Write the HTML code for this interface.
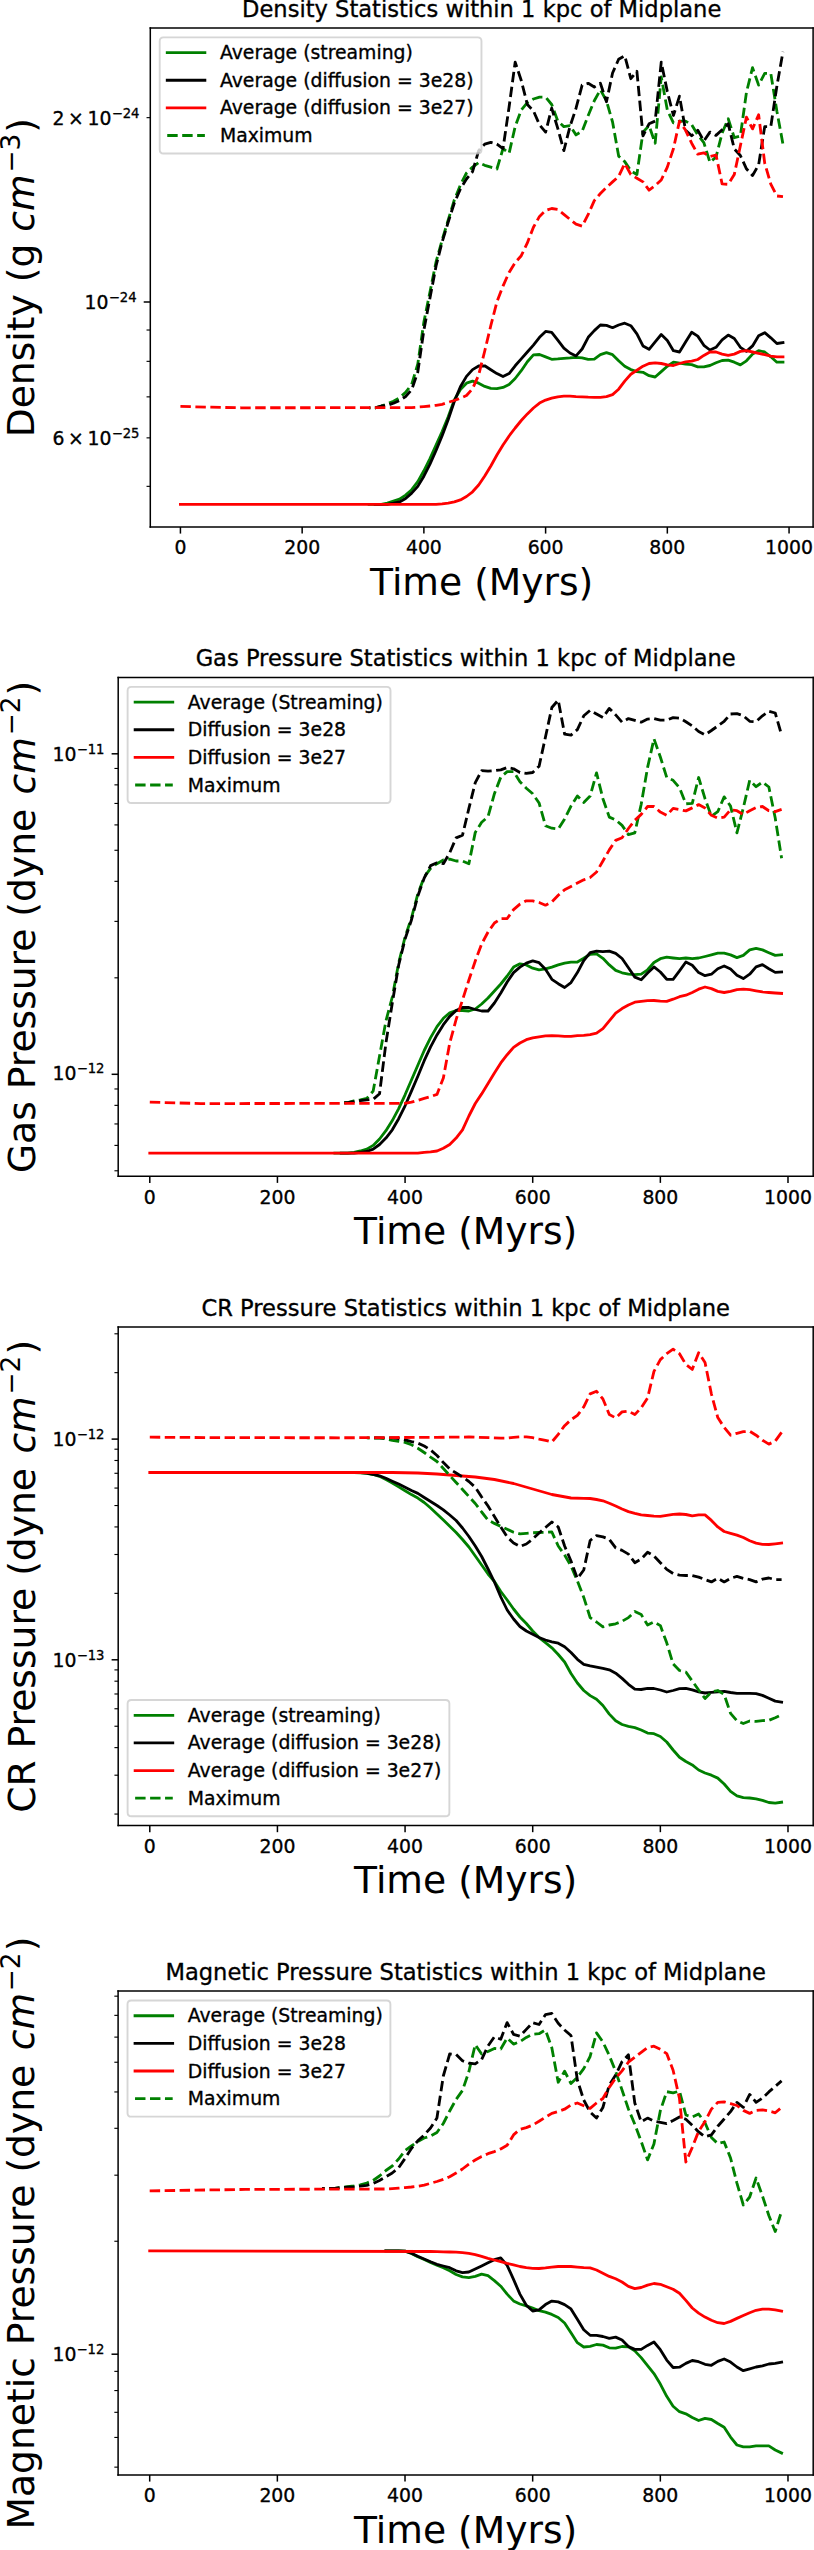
<!DOCTYPE html>
<html><head><meta charset="utf-8"><title>Statistics within 1 kpc of Midplane</title>
<style>html,body{margin:0;padding:0;background:#fff;}body{width:814px;height:2550px;overflow:hidden;}svg{display:block;}.ts{stroke:#000;stroke-width:0.18;}.tl{stroke:none;}</style>
</head><body>
<svg width="814" height="2550" viewBox="0 0 432.518597 1354.941552" version="1.1">
<defs>
<style type="text/css">*{stroke-linejoin: round; stroke-linecap: butt}</style>
</defs>
<g id="figure_1">
<g id="patch_1">
<path d="M 0 1354.941552 L 432.518597 1354.941552 L 432.518597 0 L 0 0 z" style="fill: #ffffff"/>
</g>
<g id="axes_1">
<g id="patch_2">
<path d="M 79.861849 280.021254 L 432.040383 280.021254 L 432.040383 14.87779 L 79.861849 14.87779 z" style="fill: #ffffff"/>
</g>
<g id="matplotlib.axis_1">
<g id="xtick_1">
<g id="line2d_1">
<g>
<path transform="translate(95.869964 280.021254)" d="M 0 0 L 0 3.5" style="stroke: #000000; stroke-width: 0.8"/>
</g>
</g>
<g id="text_1">
<text class="ts" style="font-size: 10px; font-family: 'DejaVu Sans', 'Liberation Sans', sans-serif; text-anchor: middle" x="95.869964" y="294.619691" transform="rotate(-0 95.869964 294.619691)">0</text>
</g>
</g>
<g id="xtick_2">
<g id="line2d_2">
<g>
<path transform="translate(160.549217 280.021254)" d="M 0 0 L 0 3.5" style="stroke: #000000; stroke-width: 0.8"/>
</g>
</g>
<g id="text_2">
<text class="ts" style="font-size: 10px; font-family: 'DejaVu Sans', 'Liberation Sans', sans-serif; text-anchor: middle" x="160.549217" y="294.619691" transform="rotate(-0 160.549217 294.619691)">200</text>
</g>
</g>
<g id="xtick_3">
<g id="line2d_3">
<g>
<path transform="translate(225.228471 280.021254)" d="M 0 0 L 0 3.5" style="stroke: #000000; stroke-width: 0.8"/>
</g>
</g>
<g id="text_3">
<text class="ts" style="font-size: 10px; font-family: 'DejaVu Sans', 'Liberation Sans', sans-serif; text-anchor: middle" x="225.228471" y="294.619691" transform="rotate(-0 225.228471 294.619691)">400</text>
</g>
</g>
<g id="xtick_4">
<g id="line2d_4">
<g>
<path transform="translate(289.907724 280.021254)" d="M 0 0 L 0 3.5" style="stroke: #000000; stroke-width: 0.8"/>
</g>
</g>
<g id="text_4">
<text class="ts" style="font-size: 10px; font-family: 'DejaVu Sans', 'Liberation Sans', sans-serif; text-anchor: middle" x="289.907724" y="294.619691" transform="rotate(-0 289.907724 294.619691)">600</text>
</g>
</g>
<g id="xtick_5">
<g id="line2d_5">
<g>
<path transform="translate(354.586977 280.021254)" d="M 0 0 L 0 3.5" style="stroke: #000000; stroke-width: 0.8"/>
</g>
</g>
<g id="text_5">
<text class="ts" style="font-size: 10px; font-family: 'DejaVu Sans', 'Liberation Sans', sans-serif; text-anchor: middle" x="354.586977" y="294.619691" transform="rotate(-0 354.586977 294.619691)">800</text>
</g>
</g>
<g id="xtick_6">
<g id="line2d_6">
<g>
<path transform="translate(419.26623 280.021254)" d="M 0 0 L 0 3.5" style="stroke: #000000; stroke-width: 0.8"/>
</g>
</g>
<g id="text_6">
<text class="ts" style="font-size: 10px; font-family: 'DejaVu Sans', 'Liberation Sans', sans-serif; text-anchor: middle" x="419.26623" y="294.619691" transform="rotate(-0 419.26623 294.619691)">1000</text>
</g>
</g>
<g id="text_7">
<text class="tl" style="font-size: 20px; font-family: 'DejaVu Sans', 'Liberation Sans', sans-serif; text-anchor: middle" x="255.951116" y="315.896254" transform="rotate(-0 255.951116 315.896254)">Time (Myrs)</text>
</g>
</g>
<g id="matplotlib.axis_2">
<g id="ytick_1">
<g id="line2d_7">
<g>
<path transform="translate(79.861849 160.467588)" d="M 0 0 L -3.5 0" style="stroke: #000000; stroke-width: 0.8"/>
</g>
</g>
<g id="text_8">
<g transform="translate(44.961849 165.276371)">
<text><tspan class="ts" x="0" y="-0.976562" style="font-size: 10px; font-family: 'DejaVu Sans', 'Liberation Sans', sans-serif">10</tspan><tspan class="ts" x="12.820312" y="-4.804688" style="font-size: 7px; font-family: 'DejaVu Sans', 'Liberation Sans', sans-serif">−24</tspan></text>
</g>
</g>
</g>
<g id="ytick_2">
<g id="line2d_8">
<g>
<path transform="translate(79.861849 258.4223)" d="M 0 0 L -2 0" style="stroke: #000000; stroke-width: 0.6"/>
</g>
</g>
</g>
<g id="ytick_3">
<g id="line2d_9">
<g>
<path transform="translate(79.861849 232.656841)" d="M 0 0 L -2 0" style="stroke: #000000; stroke-width: 0.6"/>
</g>
</g>
<g id="text_9">
<g transform="translate(27.861849 237.465624)">
<text><tspan class="ts" x="0" y="-0.976562" style="font-size: 10px; font-family: 'DejaVu Sans', 'Liberation Sans', sans-serif">6</tspan><tspan class="ts" x="8.310547" y="-0.976562" style="font-size: 10px; font-family: 'DejaVu Sans', 'Liberation Sans', sans-serif">×</tspan><tspan class="ts" x="18.637695" y="-0.976562" style="font-size: 10px; font-family: 'DejaVu Sans', 'Liberation Sans', sans-serif">10</tspan><tspan class="ts" x="31.458008" y="-4.804688" style="font-size: 7px; font-family: 'DejaVu Sans', 'Liberation Sans', sans-serif">−25</tspan></text>
</g>
</g>
</g>
<g id="ytick_4">
<g id="line2d_10">
<g>
<path transform="translate(79.861849 210.872455)" d="M 0 0 L -2 0" style="stroke: #000000; stroke-width: 0.6"/>
</g>
</g>
</g>
<g id="ytick_5">
<g id="line2d_11">
<g>
<path transform="translate(79.861849 192.001962)" d="M 0 0 L -2 0" style="stroke: #000000; stroke-width: 0.6"/>
</g>
</g>
</g>
<g id="ytick_6">
<g id="line2d_12">
<g>
<path transform="translate(79.861849 175.357007)" d="M 0 0 L -2 0" style="stroke: #000000; stroke-width: 0.6"/>
</g>
</g>
</g>
<g id="ytick_7">
<g id="line2d_13">
<g>
<path transform="translate(79.861849 62.512875)" d="M 0 0 L -2 0" style="stroke: #000000; stroke-width: 0.6"/>
</g>
</g>
<g id="text_10">
<g transform="translate(27.861849 67.321658)">
<text><tspan class="ts" x="0" y="-0.976562" style="font-size: 10px; font-family: 'DejaVu Sans', 'Liberation Sans', sans-serif">2</tspan><tspan class="ts" x="8.310547" y="-0.976562" style="font-size: 10px; font-family: 'DejaVu Sans', 'Liberation Sans', sans-serif">×</tspan><tspan class="ts" x="18.637695" y="-0.976562" style="font-size: 10px; font-family: 'DejaVu Sans', 'Liberation Sans', sans-serif">10</tspan><tspan class="ts" x="31.458008" y="-4.804688" style="font-size: 7px; font-family: 'DejaVu Sans', 'Liberation Sans', sans-serif">−24</tspan></text>
</g>
</g>
</g>
<g id="text_11">
<g transform="translate(19.236769 232.349522) rotate(-90)">
<text><tspan class="tl" x="0" y="-0.953125" style="font-size: 20px; font-family: 'DejaVu Sans', 'Liberation Sans', sans-serif">Density (g </tspan><tspan class="tl" x="109.248047" y="-0.953125" style="font-style: oblique; font-size: 20px; font-family: 'DejaVu Sans', 'Liberation Sans', sans-serif">cm</tspan><tspan class="tl" x="140.656979" y="-8.609375" style="font-size: 14px; font-family: 'DejaVu Sans', 'Liberation Sans', sans-serif">−3</tspan><tspan class="tl" x="161.841549" y="-0.953125" style="font-size: 20px; font-family: 'DejaVu Sans', 'Liberation Sans', sans-serif">)</tspan></text>
</g>
</g>
</g>
<g id="line2d_14">
<path d="M 196.122807 267.959617 L 202.590732 267.959617 L 205.824695 267.375133 L 209.058657 266.312434 L 212.29262 265.249734 L 215.526583 263.071201 L 218.760545 260.201913 L 221.994508 255.897981 L 225.228471 250.159405 L 228.462433 243.676939 L 231.696396 236.503719 L 234.930359 229.330499 L 238.164321 221.466525 L 241.398284 212.539851 L 244.632247 206.96068 L 247.866209 203.613177 L 251.100172 202.550478 L 254.334135 203.613177 L 257.568097 205.313496 L 260.80206 206.376196 L 264.036022 206.5356 L 267.269985 205.844846 L 270.503948 204.250797 L 273.73791 201.115834 L 276.971873 196.971307 L 280.205836 192.242295 L 283.439798 188.575983 L 286.673761 188.363443 L 289.907724 189.638682 L 293.141686 190.913921 L 296.375649 190.701382 L 299.609612 190.382572 L 302.843574 190.170032 L 306.077537 189.851222 L 309.3115 190.170032 L 312.545462 190.913921 L 315.779425 190.860786 L 319.013388 188.469713 L 322.24735 187.407014 L 325.481313 188.469713 L 328.715276 191.710946 L 331.949238 194.580234 L 335.183201 196.386823 L 338.417164 197.449522 L 341.651126 197.821467 L 344.885089 199.628055 L 348.119052 200.31881 L 351.353014 197.449522 L 354.586977 194.580234 L 357.82094 192.454835 L 361.054902 192.986185 L 364.288865 193.517535 L 367.522828 193.783209 L 370.75679 194.952179 L 373.990753 194.952179 L 377.224716 194.208289 L 380.458678 192.773645 L 383.692641 191.551541 L 386.926603 191.339001 L 390.160566 192.454835 L 393.394529 193.889479 L 396.628491 191.710946 L 399.862454 188.150903 L 403.096417 186.344315 L 406.330379 187.035069 L 409.564342 189.585547 L 412.798305 192.454835 L 416.032267 192.454835" clip-path="url(#p4381c79f08)" style="fill: none; stroke: #008000; stroke-width: 1.5; stroke-linecap: square"/>
</g>
<g id="line2d_15">
<path d="M 199.356769 267.959617 L 205.824695 267.959617 L 209.058657 267.375133 L 212.29262 266.684378 L 215.526583 264.87779 L 218.760545 262.008502 L 221.994508 258.448459 L 225.228471 253.028693 L 228.462433 246.599362 L 231.696396 239.373007 L 234.930359 231.509033 L 238.164321 222.901169 L 241.398284 213.336876 L 244.632247 205.472901 L 247.866209 200 L 251.100172 196.386823 L 254.334135 194.473964 L 257.568097 194.367694 L 260.80206 196.439957 L 264.036022 198.512221 L 267.269985 200.10627 L 270.503948 198.512221 L 273.73791 194.367694 L 276.971873 190.701382 L 280.205836 187.035069 L 283.439798 183.368757 L 286.673761 179.22423 L 289.907724 176.089267 L 293.141686 176.567481 L 296.375649 180.765143 L 299.609612 184.962806 L 302.843574 187.566419 L 306.077537 189.107333 L 309.3115 185.44102 L 312.545462 179.22423 L 315.779425 175.664187 L 319.013388 172.688629 L 322.24735 172.901169 L 325.481313 174.123273 L 328.715276 172.688629 L 331.949238 171.7322 L 335.183201 173.060574 L 338.417164 177.364506 L 341.651126 183.793836 L 344.885089 185.600425 L 348.119052 181.668438 L 351.353014 177.736451 L 354.586977 180.924548 L 357.82094 186.344315 L 361.054902 187.035069 L 364.288865 181.668438 L 367.522828 176.514346 L 370.75679 178.58661 L 373.990753 183.475027 L 377.224716 185.97237 L 380.458678 184.537726 L 383.692641 180.605739 L 386.926603 178.05526 L 390.160566 179.861849 L 393.394529 184.537726 L 396.628491 186.716259 L 399.862454 183.793836 L 403.096417 178.427205 L 406.330379 176.780021 L 409.564342 179.489904 L 412.798305 182.518597 L 416.032267 182.040383" clip-path="url(#p4381c79f08)" style="fill: none; stroke: #000000; stroke-width: 1.5; stroke-linecap: square"/>
</g>
<g id="line2d_16">
<path d="M 95.869964 267.959617 L 231.696396 267.959617 L 234.930359 267.747078 L 238.164321 267.375133 L 241.398284 266.684378 L 244.632247 265.621679 L 247.866209 263.81509 L 251.100172 261.317747 L 254.334135 257.70457 L 257.568097 252.922423 L 260.80206 247.608927 L 264.036022 241.764081 L 267.269985 236.450584 L 270.503948 231.668438 L 273.73791 227.417641 L 276.971873 223.432519 L 280.205836 219.925611 L 283.439798 216.790648 L 286.673761 214.187035 L 289.907724 212.592986 L 293.141686 211.583422 L 296.375649 210.839532 L 299.609612 210.520723 L 302.843574 210.520723 L 306.077537 210.733262 L 309.3115 210.839532 L 312.545462 211.052072 L 315.779425 211.105207 L 319.013388 211.105207 L 322.24735 210.733262 L 325.481313 209.670563 L 328.715276 206.801275 L 331.949238 202.497343 L 335.183201 198.884166 L 338.417164 196.758767 L 341.651126 194.580234 L 344.885089 193.14559 L 348.119052 192.773645 L 351.353014 193.14559 L 354.586977 193.889479 L 357.82094 194.208289 L 361.054902 193.14559 L 364.288865 192.29543 L 367.522828 191.923486 L 370.75679 191.020191 L 373.990753 188.841658 L 377.224716 187.035069 L 380.458678 187.035069 L 383.692641 188.150903 L 386.926603 188.841658 L 390.160566 188.150903 L 393.394529 186.716259 L 396.628491 186.344315 L 399.862454 187.035069 L 403.096417 187.778959 L 406.330379 188.469713 L 409.564342 189.213603 L 412.798305 189.585547 L 416.032267 189.585547" clip-path="url(#p4381c79f08)" style="fill: none; stroke: #ff0000; stroke-width: 1.5; stroke-linecap: square"/>
</g>
<g id="line2d_17">
<path d="M 196.122807 216.684378 L 199.356769 216.684378 L 202.590732 215.727949 L 205.824695 214.612115 L 209.058657 213.177471 L 212.29262 211.370882 L 215.526583 208.501594 L 218.760545 204.197662 L 221.994508 193.411265 L 225.228471 171.09458 L 228.462433 155.154091 L 231.696396 139.213603 L 234.930359 127.523911 L 238.164321 116.896918 L 241.398284 106.269926 L 244.632247 98.299681 L 247.866209 91.923486 L 251.100172 88.788523 L 254.334135 86.344315 L 257.568097 87.832094 L 260.80206 88.788523 L 264.036022 89.798087 L 267.269985 79.01169 L 270.503948 81.455898 L 273.73791 67.268863 L 276.971873 58.448459 L 280.205836 54.516472 L 283.439798 52.603613 L 286.673761 51.594049 L 289.907724 51.594049 L 293.141686 55.526036 L 296.375649 64.34644 L 299.609612 67.268863 L 302.843574 66.790648 L 306.077537 71.679065 L 309.3115 69.713071 L 312.545462 61.370882 L 315.779425 53.560043 L 319.013388 47.715197 L 322.24735 53.560043 L 325.481313 64.824655 L 328.715276 82.943677 L 331.949238 85.8661 L 335.183201 90.754516 L 338.417164 92.72051 L 341.651126 70.191286 L 344.885089 66.790648 L 348.119052 76.089267 L 351.353014 40.860786 L 354.586977 58.448459 L 357.82094 65.302869 L 361.054902 64.34644 L 364.288865 64.34644 L 367.522828 66.312434 L 370.75679 71.679065 L 373.990753 75.770457 L 377.224716 86.238045 L 380.458678 83.421892 L 383.692641 70.722635 L 386.926603 63.071201 L 390.160566 73.166844 L 393.394529 72.263549 L 396.628491 49.043571 L 399.862454 35.97237 L 403.096417 45.217853 L 406.330379 39.001063 L 409.564342 39.001063 L 412.798305 59.086079 L 416.032267 76.567481" clip-path="url(#p4381c79f08)" style="fill: none; stroke-dasharray: 5.55,2.4; stroke-dashoffset: 4.872809; stroke: #008000; stroke-width: 1.5"/>
</g>
<g id="line2d_18">
<path d="M 196.122807 216.684378 L 199.356769 216.684378 L 202.590732 215.727949 L 205.824695 215.356004 L 209.058657 214.24017 L 212.29262 212.805526 L 215.526583 210.680128 L 218.760545 207.06695 L 221.994508 197.662062 L 225.228471 175.345377 L 228.462433 158.342189 L 231.696396 141.339001 L 234.930359 128.58661 L 238.164321 117.959617 L 241.398284 107.863974 L 244.632247 100.42508 L 247.866209 95.111583 L 251.100172 91.232731 L 254.334135 80.021254 L 257.568097 76.567481 L 260.80206 75.611052 L 264.036022 76.567481 L 267.269985 79.01169 L 270.503948 56.85441 L 273.73791 32.996812 L 276.971873 42.773645 L 280.205836 55.526036 L 283.439798 58.926674 L 286.673761 66.312434 L 289.907724 70.191286 L 293.141686 57.49203 L 296.375649 68.225292 L 299.609612 80.021254 L 302.843574 67.268863 L 306.077537 57.49203 L 309.3115 45.217853 L 312.545462 44.261424 L 315.779425 46.227418 L 319.013388 44.261424 L 322.24735 54.038257 L 325.481313 38.788523 L 328.715276 31.509033 L 331.949238 29.596174 L 335.183201 41.817216 L 338.417164 37.885228 L 341.651126 72.157279 L 344.885089 65.781084 L 348.119052 64.34644 L 351.353014 32.996812 L 354.586977 48.671626 L 357.82094 61.370882 L 361.054902 51.115834 L 364.288865 69.234857 L 367.522828 72.157279 L 370.75679 69.234857 L 373.990753 74.920298 L 377.224716 70.191286 L 380.458678 71.94474 L 383.692641 68.969182 L 386.926603 65.781084 L 390.160566 79.064825 L 393.394529 82.624867 L 396.628491 89.691817 L 399.862454 93.25186 L 403.096417 87.619554 L 406.330379 67.268863 L 409.564342 67.268863 L 412.798305 45.696068 L 416.032267 27.470776" clip-path="url(#p4381c79f08)" style="fill: none; stroke-dasharray: 5.55,2.4; stroke-dashoffset: 4.872809; stroke: #000000; stroke-width: 1.5"/>
</g>
<g id="line2d_19">
<path d="M 95.869964 215.940489 L 112.039778 216.365569 L 128.209591 216.684378 L 218.760545 216.578108 L 225.228471 216.046759 L 228.462433 215.727949 L 231.696396 215.356004 L 234.930359 214.824655 L 238.164321 213.761955 L 241.398284 212.805526 L 244.632247 211.583422 L 247.866209 210.148778 L 251.100172 206.5356 L 254.334135 199.256111 L 257.568097 186.503719 L 260.80206 172.954304 L 264.036022 160.414453 L 267.269985 152.019129 L 270.503948 144.739639 L 273.73791 139.532412 L 276.971873 135.8661 L 280.205836 129.064825 L 283.439798 120.722635 L 286.673761 114.98406 L 289.907724 111.849097 L 293.141686 110.786397 L 296.375649 111.317747 L 299.609612 113.92136 L 302.843574 116.524973 L 306.077537 119.128587 L 309.3115 120.191286 L 312.545462 113.92136 L 315.779425 106.588735 L 319.013388 102.816153 L 322.24735 99.628055 L 325.481313 96.652497 L 328.715276 93.730074 L 331.949238 86.875664 L 335.183201 92.72051 L 338.417164 94.686504 L 341.651126 96.652497 L 344.885089 101.062699 L 348.119052 98.618491 L 351.353014 95.642933 L 354.586977 88.788523 L 357.82094 79.01169 L 361.054902 64.34644 L 364.288865 69.234857 L 367.522828 76.089267 L 370.75679 81.934113 L 373.990753 81.190223 L 377.224716 83.156217 L 380.458678 82.359192 L 383.692641 97.715197 L 386.926603 97.927736 L 390.160566 92.773645 L 393.394529 77.470776 L 396.628491 62.221041 L 399.862454 68.490967 L 403.096417 60.945802 L 406.330379 86.663124 L 409.564342 97.821467 L 412.798305 104.144527 L 416.032267 104.516472" clip-path="url(#p4381c79f08)" style="fill: none; stroke-dasharray: 5.55,2.4; stroke-dashoffset: 0; stroke: #ff0000; stroke-width: 1.5"/>
</g>
<g id="patch_3">
<path d="M 79.861849 280.021254 L 79.861849 14.87779" style="fill: none; stroke: #000000; stroke-width: 0.8; stroke-linejoin: miter; stroke-linecap: square"/>
</g>
<g id="patch_4">
<path d="M 432.040383 280.021254 L 432.040383 14.87779" style="fill: none; stroke: #000000; stroke-width: 0.8; stroke-linejoin: miter; stroke-linecap: square"/>
</g>
<g id="patch_5">
<path d="M 79.861849 280.021254 L 432.040383 280.021254" style="fill: none; stroke: #000000; stroke-width: 0.8; stroke-linejoin: miter; stroke-linecap: square"/>
</g>
<g id="patch_6">
<path d="M 79.861849 14.87779 L 432.040383 14.87779" style="fill: none; stroke: #000000; stroke-width: 0.8; stroke-linejoin: miter; stroke-linecap: square"/>
</g>
<g id="text_12">
<text class="ts" style="font-size: 12px; font-family: 'DejaVu Sans', 'Liberation Sans', sans-serif; text-anchor: middle" x="255.951116" y="8.87779" transform="rotate(-0 255.951116 8.87779)">Density Statistics within 1 kpc of Midplane</text>
</g>
<g id="legend_1">
<g id="patch_7">
<path d="M 86.861849 81.59029 L 253.833724 81.59029 Q 255.833724 81.59029 255.833724 79.59029 L 255.833724 21.87779 Q 255.833724 19.87779 253.833724 19.87779 L 86.861849 19.87779 Q 84.861849 19.87779 84.861849 21.87779 L 84.861849 79.59029 Q 84.861849 81.59029 86.861849 81.59029 z" style="fill: #ffffff; opacity: 0.8; stroke: #cccccc; stroke-linejoin: miter"/>
</g>
<g id="line2d_20">
<path d="M 88.861849 27.976227 L 98.861849 27.976227 L 108.861849 27.976227" style="fill: none; stroke: #008000; stroke-width: 1.5; stroke-linecap: square"/>
</g>
<g id="text_13">
<text class="ts" style="font-size: 10px; font-family: 'DejaVu Sans', 'Liberation Sans', sans-serif; text-anchor: start" x="116.861849" y="31.476227" transform="rotate(-0 116.861849 31.476227)">Average (streaming)</text>
</g>
<g id="line2d_21">
<path d="M 88.861849 42.654352 L 98.861849 42.654352 L 108.861849 42.654352" style="fill: none; stroke: #000000; stroke-width: 1.5; stroke-linecap: square"/>
</g>
<g id="text_14">
<text class="ts" style="font-size: 10px; font-family: 'DejaVu Sans', 'Liberation Sans', sans-serif; text-anchor: start" x="116.861849" y="46.154352" transform="rotate(-0 116.861849 46.154352)">Average (diffusion = 3e28)</text>
</g>
<g id="line2d_22">
<path d="M 88.861849 57.332477 L 98.861849 57.332477 L 108.861849 57.332477" style="fill: none; stroke: #ff0000; stroke-width: 1.5; stroke-linecap: square"/>
</g>
<g id="text_15">
<text class="ts" style="font-size: 10px; font-family: 'DejaVu Sans', 'Liberation Sans', sans-serif; text-anchor: start" x="116.861849" y="60.832477" transform="rotate(-0 116.861849 60.832477)">Average (diffusion = 3e27)</text>
</g>
<g id="line2d_23">
<path d="M 88.861849 72.010602 L 98.861849 72.010602 L 108.861849 72.010602" style="fill: none; stroke-dasharray: 5.55,2.4; stroke-dashoffset: 0; stroke: #008000; stroke-width: 1.5"/>
</g>
<g id="text_16">
<text class="ts" style="font-size: 10px; font-family: 'DejaVu Sans', 'Liberation Sans', sans-serif; text-anchor: start" x="116.861849" y="75.510602" transform="rotate(-0 116.861849 75.510602)">Maximum</text>
</g>
</g>
</g>
<g id="axes_2">
<g id="patch_8">
<path d="M 62.805526 625.026567 L 432.093518 625.026567 L 432.093518 359.989373 L 62.805526 359.989373 z" style="fill: #ffffff"/>
</g>
<g id="matplotlib.axis_3">
<g id="xtick_7">
<g id="line2d_24">
<g>
<path transform="translate(79.591344 625.026567)" d="M 0 0 L 0 3.5" style="stroke: #000000; stroke-width: 0.8"/>
</g>
</g>
<g id="text_17">
<text class="ts" style="font-size: 10px; font-family: 'DejaVu Sans', 'Liberation Sans', sans-serif; text-anchor: middle" x="79.591344" y="639.625005" transform="rotate(-0 79.591344 639.625005)">0</text>
</g>
</g>
<g id="xtick_8">
<g id="line2d_25">
<g>
<path transform="translate(147.41283 625.026567)" d="M 0 0 L 0 3.5" style="stroke: #000000; stroke-width: 0.8"/>
</g>
</g>
<g id="text_18">
<text class="ts" style="font-size: 10px; font-family: 'DejaVu Sans', 'Liberation Sans', sans-serif; text-anchor: middle" x="147.41283" y="639.625005" transform="rotate(-0 147.41283 639.625005)">200</text>
</g>
</g>
<g id="xtick_9">
<g id="line2d_26">
<g>
<path transform="translate(215.234316 625.026567)" d="M 0 0 L 0 3.5" style="stroke: #000000; stroke-width: 0.8"/>
</g>
</g>
<g id="text_19">
<text class="ts" style="font-size: 10px; font-family: 'DejaVu Sans', 'Liberation Sans', sans-serif; text-anchor: middle" x="215.234316" y="639.625005" transform="rotate(-0 215.234316 639.625005)">400</text>
</g>
</g>
<g id="xtick_10">
<g id="line2d_27">
<g>
<path transform="translate(283.055802 625.026567)" d="M 0 0 L 0 3.5" style="stroke: #000000; stroke-width: 0.8"/>
</g>
</g>
<g id="text_20">
<text class="ts" style="font-size: 10px; font-family: 'DejaVu Sans', 'Liberation Sans', sans-serif; text-anchor: middle" x="283.055802" y="639.625005" transform="rotate(-0 283.055802 639.625005)">600</text>
</g>
</g>
<g id="xtick_11">
<g id="line2d_28">
<g>
<path transform="translate(350.877288 625.026567)" d="M 0 0 L 0 3.5" style="stroke: #000000; stroke-width: 0.8"/>
</g>
</g>
<g id="text_21">
<text class="ts" style="font-size: 10px; font-family: 'DejaVu Sans', 'Liberation Sans', sans-serif; text-anchor: middle" x="350.877288" y="639.625005" transform="rotate(-0 350.877288 639.625005)">800</text>
</g>
</g>
<g id="xtick_12">
<g id="line2d_29">
<g>
<path transform="translate(418.698774 625.026567)" d="M 0 0 L 0 3.5" style="stroke: #000000; stroke-width: 0.8"/>
</g>
</g>
<g id="text_22">
<text class="ts" style="font-size: 10px; font-family: 'DejaVu Sans', 'Liberation Sans', sans-serif; text-anchor: middle" x="418.698774" y="639.625005" transform="rotate(-0 418.698774 639.625005)">1000</text>
</g>
</g>
<g id="text_23">
<text class="tl" style="font-size: 20px; font-family: 'DejaVu Sans', 'Liberation Sans', sans-serif; text-anchor: middle" x="247.449522" y="660.901567" transform="rotate(-0 247.449522 660.901567)">Time (Myrs)</text>
</g>
</g>
<g id="matplotlib.axis_4">
<g id="ytick_8">
<g id="line2d_30">
<g>
<path transform="translate(62.805526 570.828905)" d="M 0 0 L -3.5 0" style="stroke: #000000; stroke-width: 0.8"/>
</g>
</g>
<g id="text_24">
<g transform="translate(27.905526 574.893799)">
<text><tspan class="ts" x="0" y="-0.976562" style="font-size: 10px; font-family: 'DejaVu Sans', 'Liberation Sans', sans-serif">10</tspan><tspan class="ts" x="12.820312" y="-4.804688" style="font-size: 7px; font-family: 'DejaVu Sans', 'Liberation Sans', sans-serif">−12</tspan></text>
</g>
</g>
</g>
<g id="ytick_9">
<g id="line2d_31">
<g>
<path transform="translate(62.805526 400.53135)" d="M 0 0 L -3.5 0" style="stroke: #000000; stroke-width: 0.8"/>
</g>
</g>
<g id="text_25">
<g transform="translate(27.905526 404.596243)">
<text><tspan class="ts" x="0" y="-0.064063" style="font-size: 10px; font-family: 'DejaVu Sans', 'Liberation Sans', sans-serif">10</tspan><tspan class="ts" x="12.820312" y="-3.892188" style="font-size: 7px; font-family: 'DejaVu Sans', 'Liberation Sans', sans-serif">−11</tspan></text>
</g>
</g>
</g>
<g id="ytick_10">
<g id="line2d_32">
<g>
<path transform="translate(62.805526 622.093578)" d="M 0 0 L -2 0" style="stroke: #000000; stroke-width: 0.6"/>
</g>
</g>
</g>
<g id="ytick_11">
<g id="line2d_33">
<g>
<path transform="translate(62.805526 608.609205)" d="M 0 0 L -2 0" style="stroke: #000000; stroke-width: 0.6"/>
</g>
</g>
</g>
<g id="ytick_12">
<g id="line2d_34">
<g>
<path transform="translate(62.805526 597.208331)" d="M 0 0 L -2 0" style="stroke: #000000; stroke-width: 0.6"/>
</g>
</g>
</g>
<g id="ytick_13">
<g id="line2d_35">
<g>
<path transform="translate(62.805526 587.332444)" d="M 0 0 L -2 0" style="stroke: #000000; stroke-width: 0.6"/>
</g>
</g>
</g>
<g id="ytick_14">
<g id="line2d_36">
<g>
<path transform="translate(62.805526 578.621294)" d="M 0 0 L -2 0" style="stroke: #000000; stroke-width: 0.6"/>
</g>
</g>
</g>
<g id="ytick_15">
<g id="line2d_37">
<g>
<path transform="translate(62.805526 519.564233)" d="M 0 0 L -2 0" style="stroke: #000000; stroke-width: 0.6"/>
</g>
</g>
</g>
<g id="ytick_16">
<g id="line2d_38">
<g>
<path transform="translate(62.805526 489.576322)" d="M 0 0 L -2 0" style="stroke: #000000; stroke-width: 0.6"/>
</g>
</g>
</g>
<g id="ytick_17">
<g id="line2d_39">
<g>
<path transform="translate(62.805526 468.29956)" d="M 0 0 L -2 0" style="stroke: #000000; stroke-width: 0.6"/>
</g>
</g>
</g>
<g id="ytick_18">
<g id="line2d_40">
<g>
<path transform="translate(62.805526 451.796022)" d="M 0 0 L -2 0" style="stroke: #000000; stroke-width: 0.6"/>
</g>
</g>
</g>
<g id="ytick_19">
<g id="line2d_41">
<g>
<path transform="translate(62.805526 438.311649)" d="M 0 0 L -2 0" style="stroke: #000000; stroke-width: 0.6"/>
</g>
</g>
</g>
<g id="ytick_20">
<g id="line2d_42">
<g>
<path transform="translate(62.805526 426.910775)" d="M 0 0 L -2 0" style="stroke: #000000; stroke-width: 0.6"/>
</g>
</g>
</g>
<g id="ytick_21">
<g id="line2d_43">
<g>
<path transform="translate(62.805526 417.034888)" d="M 0 0 L -2 0" style="stroke: #000000; stroke-width: 0.6"/>
</g>
</g>
</g>
<g id="ytick_22">
<g id="line2d_44">
<g>
<path transform="translate(62.805526 408.323738)" d="M 0 0 L -2 0" style="stroke: #000000; stroke-width: 0.6"/>
</g>
</g>
</g>
<g id="text_26">
<g transform="translate(19.280446 623.30797) rotate(-90)">
<text><tspan class="tl" x="0" y="-0.953125" style="font-size: 20px; font-family: 'DejaVu Sans', 'Liberation Sans', sans-serif">Gas Pressure (dyne </tspan><tspan class="tl" x="201.191406" y="-0.953125" style="font-style: oblique; font-size: 20px; font-family: 'DejaVu Sans', 'Liberation Sans', sans-serif">cm</tspan><tspan class="tl" x="232.600339" y="-8.609375" style="font-size: 14px; font-family: 'DejaVu Sans', 'Liberation Sans', sans-serif">−2</tspan><tspan class="tl" x="253.784909" y="-0.953125" style="font-size: 20px; font-family: 'DejaVu Sans', 'Liberation Sans', sans-serif">)</tspan></text>
</g>
</g>
</g>
<g id="line2d_45">
<path d="M 177.932499 612.752391 L 184.714647 612.752391 L 188.105721 612.274176 L 191.496796 611.583422 L 194.88787 610.573858 L 198.278944 608.607864 L 201.670019 605.207226 L 205.061093 600.797024 L 208.452167 595.430393 L 211.843242 589.054198 L 215.234316 581.721573 L 218.62539 573.857598 L 222.016465 566.046759 L 225.407539 558.182784 L 228.798613 551.328374 L 232.189687 545.483528 L 235.580762 541.073326 L 238.971836 538.150903 L 242.36291 536.981934 L 245.753985 536.928799 L 249.145059 537.194474 L 252.536133 536.131775 L 255.927208 533.475027 L 259.318282 530.286929 L 262.709356 526.567481 L 266.10043 522.848034 L 269.491505 518.597237 L 272.882579 513.868225 L 276.273653 512.114772 L 279.664728 512.699256 L 283.055802 514.45271 L 286.446876 515.302869 L 289.837951 514.824655 L 293.229025 513.868225 L 296.620099 512.699256 L 300.011173 511.742827 L 303.402248 511.264612 L 306.793322 511.158342 L 310.184396 509.192349 L 313.575471 507.06695 L 316.966545 506.801275 L 320.357619 509.192349 L 323.748694 512.699256 L 327.139768 515.621679 L 330.530842 516.896918 L 333.921916 517.640808 L 337.312991 517.853348 L 340.704065 517.640808 L 344.095139 515.302869 L 347.486214 511.424017 L 350.877288 509.404888 L 354.268362 508.607864 L 357.659437 509.032944 L 361.050511 509.404888 L 364.441585 509.032944 L 367.83266 509.404888 L 371.223734 509.032944 L 374.614808 508.235919 L 378.005882 507.38576 L 381.396957 506.482465 L 384.788031 506.482465 L 388.179105 507.38576 L 391.57018 508.820404 L 394.961254 507.651435 L 398.352328 504.729012 L 401.743403 503.878852 L 405.134477 504.729012 L 408.525551 506.216791 L 411.916625 507.651435 L 415.3077 507.27949" clip-path="url(#pf662947c96)" style="fill: none; stroke: #008000; stroke-width: 1.5; stroke-linecap: square"/>
</g>
<g id="line2d_46">
<path d="M 181.323573 612.752391 L 188.105721 612.752391 L 191.496796 612.274176 L 194.88787 611.849097 L 198.278944 610.573858 L 201.670019 608.129649 L 205.061093 604.729012 L 208.452167 600.31881 L 211.843242 594.420829 L 215.234316 587.566419 L 218.62539 579.755579 L 222.016465 571.891605 L 225.407539 563.60255 L 228.798613 556.269926 L 232.189687 549.89373 L 235.580762 544.473964 L 238.971836 540.063762 L 242.36291 536.928799 L 245.753985 535.33475 L 249.145059 535.33475 L 252.536133 536.39745 L 255.927208 537.194474 L 259.318282 537.194474 L 262.709356 532.943677 L 266.10043 527.630181 L 269.491505 521.785335 L 272.882579 516.790648 L 276.273653 513.868225 L 279.664728 511.742827 L 283.055802 510.573858 L 286.446876 511.530287 L 289.837951 515.037194 L 293.229025 520.350691 L 296.620099 522.688629 L 300.011173 524.707758 L 303.402248 522.104145 L 306.793322 516.790648 L 310.184396 510.361318 L 313.575471 506.216791 L 316.966545 505.419766 L 320.357619 505.632306 L 323.748694 505.419766 L 327.139768 506.588735 L 330.530842 509.298618 L 333.921916 514.24017 L 337.312991 519.181722 L 340.704065 520.563231 L 344.095139 517.056323 L 347.486214 513.761955 L 350.877288 516.471838 L 354.268362 520.350691 L 357.659437 520.350691 L 361.050511 515.887354 L 364.441585 511.158342 L 367.83266 512.911796 L 371.223734 516.790648 L 374.614808 518.437832 L 378.005882 517.640808 L 381.396957 514.718385 L 384.788031 513.283741 L 388.179105 514.930925 L 391.57018 518.225292 L 394.961254 519.978746 L 398.352328 517.640808 L 401.743403 513.761955 L 405.134477 512.592986 L 408.525551 514.718385 L 411.916625 516.684378 L 415.3077 516.471838" clip-path="url(#pf662947c96)" style="fill: none; stroke: #000000; stroke-width: 1.5; stroke-linecap: square"/>
</g>
<g id="line2d_47">
<path d="M 79.591344 612.752391 L 222.016465 612.752391 L 225.407539 612.274176 L 228.798613 612.061637 L 232.189687 611.583422 L 235.580762 610.095643 L 238.971836 608.129649 L 242.36291 604.729012 L 245.753985 600.31881 L 249.145059 592.986185 L 252.536133 586.344315 L 255.927208 581.243358 L 259.318282 575.717322 L 262.709356 570.085016 L 266.10043 564.77152 L 269.491505 560.414453 L 272.882579 556.5356 L 276.273653 554.197662 L 279.664728 552.444208 L 283.055802 551.487779 L 286.446876 550.903294 L 289.837951 550.42508 L 293.229025 550.31881 L 296.620099 550.42508 L 300.011173 550.690755 L 303.402248 550.690755 L 306.793322 550.31881 L 310.184396 550.10627 L 313.575471 549.734325 L 316.966545 548.937301 L 320.357619 546.599362 L 323.748694 542.454835 L 327.139768 538.363443 L 330.530842 535.919235 L 333.921916 534.006376 L 337.312991 532.518597 L 340.704065 532.093518 L 344.095139 531.721573 L 347.486214 531.615303 L 350.877288 531.987248 L 354.268362 532.093518 L 357.659437 530.924548 L 361.050511 529.596174 L 364.441585 528.79915 L 367.83266 527.364506 L 371.223734 525.611052 L 374.614808 524.442083 L 378.005882 525.292242 L 381.396957 526.780021 L 384.788031 527.364506 L 388.179105 526.780021 L 391.57018 525.876727 L 394.961254 525.611052 L 398.352328 525.876727 L 401.743403 526.461211 L 405.134477 527.045696 L 408.525551 527.364506 L 411.916625 527.630181 L 415.3077 527.842721" clip-path="url(#pf662947c96)" style="fill: none; stroke: #ff0000; stroke-width: 1.5; stroke-linecap: square"/>
</g>
<g id="line2d_48">
<path d="M 181.323573 585.990081 L 184.714647 585.8661 L 188.105721 584.909671 L 191.496796 584.431456 L 194.88787 583.634431 L 198.278944 579.755579 L 201.670019 561.105207 L 205.061093 542.50797 L 208.452167 529.755579 L 211.843242 511.689692 L 215.234316 497.874601 L 218.62539 487.778959 L 222.016465 475.026567 L 225.407539 465.993624 L 228.798613 461.370882 L 232.189687 458.926674 L 235.580762 456.96068 L 238.971836 456.482465 L 242.36291 457.49203 L 245.753985 457.49203 L 249.145059 458.926674 L 252.536133 442.29543 L 255.927208 436.928799 L 259.318282 433.953241 L 262.709356 421.7322 L 266.10043 412.911796 L 269.491505 409.989373 L 272.882579 409.989373 L 276.273653 415.356004 L 279.664728 418.809777 L 283.055802 421.7322 L 286.446876 426.673751 L 289.837951 438.735388 L 293.229025 440.063762 L 296.620099 440.541977 L 300.011173 435.175345 L 303.402248 428.320935 L 306.793322 422.954304 L 310.184396 426.354942 L 313.575471 422.954304 L 316.966545 410.680128 L 320.357619 424.388948 L 323.748694 434.165781 L 327.139768 435.65356 L 330.530842 438.575983 L 333.921916 443.4644 L 337.312991 442.50797 L 340.704065 427.311371 L 344.095139 407.757705 L 347.486214 392.561105 L 350.877288 402.231668 L 354.268362 413.124336 L 357.659437 414.612115 L 361.050511 418.544102 L 364.441585 427.098831 L 367.83266 426.833156 L 371.223734 413.124336 L 374.614808 424.388948 L 378.005882 433.687566 L 381.396957 431.243358 L 384.788031 423.432519 L 388.179105 428.320935 L 391.57018 442.50797 L 394.961254 429.277365 L 398.352328 414.612115 L 401.743403 418.012752 L 405.134477 415.568544 L 408.525551 418.172157 L 411.916625 434.643996 L 415.3077 456.057386" clip-path="url(#pf662947c96)" style="fill: none; stroke-dasharray: 5.55,2.4; stroke-dashoffset: 6.388469; stroke: #008000; stroke-width: 1.5"/>
</g>
<g id="line2d_49">
<path d="M 181.323573 585.990081 L 184.714647 585.8661 L 188.105721 585.33475 L 191.496796 584.856536 L 194.88787 584.431456 L 198.278944 584.165781 L 201.670019 581.190223 L 205.061093 554.197662 L 208.452167 532.943677 L 211.843242 512.752391 L 215.234316 498.937301 L 218.62539 488.841658 L 222.016465 476.089267 L 225.407539 466.524973 L 228.798613 459.936238 L 232.189687 458.448459 L 235.580762 458.926674 L 238.971836 453.081828 L 242.36291 445.217853 L 245.753985 443.783209 L 249.145059 429.543039 L 252.536133 415.834219 L 255.927208 409.511158 L 259.318282 409.776833 L 262.709356 409.511158 L 266.10043 409.032944 L 269.491505 407.81084 L 272.882579 408.501594 L 276.273653 410.467588 L 279.664728 410.945802 L 283.055802 410.467588 L 286.446876 407.120085 L 289.837951 391.604676 L 293.229025 375.929862 L 296.620099 371.997875 L 300.011173 390.116897 L 303.402248 390.595112 L 306.793322 387.672689 L 310.184396 380.340064 L 313.575471 377.417641 L 316.966545 379.383634 L 320.357619 381.296493 L 323.748694 376.408077 L 327.139768 379.861849 L 330.530842 383.740701 L 333.921916 381.827843 L 337.312991 382.784272 L 340.704065 383.740701 L 344.095139 382.093518 L 347.486214 381.827843 L 350.877288 382.678002 L 354.268362 382.624867 L 357.659437 381.296493 L 361.050511 381.562168 L 364.441585 383.475027 L 367.83266 385.706695 L 371.223734 388.682253 L 374.614808 390.435707 L 378.005882 388.150903 L 381.396957 385.706695 L 384.788031 383.262487 L 388.179105 379.383634 L 391.57018 379.171095 L 394.961254 380.340064 L 398.352328 383.262487 L 401.743403 383.475027 L 405.134477 380.340064 L 408.525551 377.895855 L 411.916625 378.852285 L 415.3077 390.595112" clip-path="url(#pf662947c96)" style="fill: none; stroke-dasharray: 5.55,2.4; stroke-dashoffset: 6.388469; stroke: #000000; stroke-width: 1.5"/>
</g>
<g id="line2d_50">
<path d="M 79.591344 585.600425 L 106.719938 586.39745 L 215.234316 586.238045 L 218.62539 585.600425 L 222.016465 584.643996 L 225.407539 583.634431 L 228.798613 582.678002 L 232.189687 581.509033 L 235.580762 572.794899 L 238.971836 554.197662 L 242.36291 541.710946 L 245.753985 531.349628 L 249.145059 520.722635 L 252.536133 510.626993 L 255.927208 501.594049 L 259.318282 495.217853 L 262.709356 490.435707 L 266.10043 488.150903 L 269.491505 488.044633 L 272.882579 483.315622 L 276.273653 480.393199 L 279.664728 478.639745 L 283.055802 478.639745 L 286.446876 479.543039 L 289.837951 480.977683 L 293.229025 479.22423 L 296.620099 475.664187 L 300.011173 472.741764 L 303.402248 470.98831 L 306.793322 469.234857 L 310.184396 467.481403 L 313.575471 466.259299 L 316.966545 463.336876 L 320.357619 457.49203 L 323.748694 451.594049 L 327.139768 446.546227 L 330.530842 445.164718 L 333.921916 440.223167 L 337.312991 435.8661 L 340.704065 432.731137 L 344.095139 428.533475 L 347.486214 428.533475 L 350.877288 431.509033 L 354.268362 433.209352 L 357.659437 429.543039 L 361.050511 430.180659 L 364.441585 430.871413 L 367.83266 429.277365 L 371.223734 427.523911 L 374.614808 429.277365 L 378.005882 433.209352 L 381.396957 434.697131 L 384.788031 434.165781 L 388.179105 430.286929 L 391.57018 430.765143 L 394.961254 432.731137 L 398.352328 430.765143 L 401.743403 429.11796 L 405.134477 428.533475 L 408.525551 430.765143 L 411.916625 431.243358 L 415.3077 430.074389" clip-path="url(#pf662947c96)" style="fill: none; stroke-dasharray: 5.55,2.4; stroke-dashoffset: 0; stroke: #ff0000; stroke-width: 1.5"/>
</g>
<g id="patch_9">
<path d="M 62.805526 625.026567 L 62.805526 359.989373" style="fill: none; stroke: #000000; stroke-width: 0.8; stroke-linejoin: miter; stroke-linecap: square"/>
</g>
<g id="patch_10">
<path d="M 432.093518 625.026567 L 432.093518 359.989373" style="fill: none; stroke: #000000; stroke-width: 0.8; stroke-linejoin: miter; stroke-linecap: square"/>
</g>
<g id="patch_11">
<path d="M 62.805526 625.026567 L 432.093518 625.026567" style="fill: none; stroke: #000000; stroke-width: 0.8; stroke-linejoin: miter; stroke-linecap: square"/>
</g>
<g id="patch_12">
<path d="M 62.805526 359.989373 L 432.093518 359.989373" style="fill: none; stroke: #000000; stroke-width: 0.8; stroke-linejoin: miter; stroke-linecap: square"/>
</g>
<g id="text_27">
<text class="ts" style="font-size: 12px; font-family: 'DejaVu Sans', 'Liberation Sans', sans-serif; text-anchor: middle" x="247.449522" y="353.989373" transform="rotate(-0 247.449522 353.989373)">Gas Pressure Statistics within 1 kpc of Midplane</text>
</g>
<g id="legend_2">
<g id="patch_13">
<path d="M 69.805526 426.701873 L 205.493026 426.701873 Q 207.493026 426.701873 207.493026 424.701873 L 207.493026 366.989373 Q 207.493026 364.989373 205.493026 364.989373 L 69.805526 364.989373 Q 67.805526 364.989373 67.805526 366.989373 L 67.805526 424.701873 Q 67.805526 426.701873 69.805526 426.701873 z" style="fill: #ffffff; opacity: 0.8; stroke: #cccccc; stroke-linejoin: miter"/>
</g>
<g id="line2d_51">
<path d="M 71.805526 373.087811 L 81.805526 373.087811 L 91.805526 373.087811" style="fill: none; stroke: #008000; stroke-width: 1.5; stroke-linecap: square"/>
</g>
<g id="text_28">
<text class="ts" style="font-size: 10px; font-family: 'DejaVu Sans', 'Liberation Sans', sans-serif; text-anchor: start" x="99.805526" y="376.587811" transform="rotate(-0 99.805526 376.587811)">Average (Streaming)</text>
</g>
<g id="line2d_52">
<path d="M 71.805526 387.765936 L 81.805526 387.765936 L 91.805526 387.765936" style="fill: none; stroke: #000000; stroke-width: 1.5; stroke-linecap: square"/>
</g>
<g id="text_29">
<text class="ts" style="font-size: 10px; font-family: 'DejaVu Sans', 'Liberation Sans', sans-serif; text-anchor: start" x="99.805526" y="391.265936" transform="rotate(-0 99.805526 391.265936)">Diffusion = 3e28</text>
</g>
<g id="line2d_53">
<path d="M 71.805526 402.444061 L 81.805526 402.444061 L 91.805526 402.444061" style="fill: none; stroke: #ff0000; stroke-width: 1.5; stroke-linecap: square"/>
</g>
<g id="text_30">
<text class="ts" style="font-size: 10px; font-family: 'DejaVu Sans', 'Liberation Sans', sans-serif; text-anchor: start" x="99.805526" y="405.944061" transform="rotate(-0 99.805526 405.944061)">Diffusion = 3e27</text>
</g>
<g id="line2d_54">
<path d="M 71.805526 417.122186 L 81.805526 417.122186 L 91.805526 417.122186" style="fill: none; stroke-dasharray: 5.55,2.4; stroke-dashoffset: 0; stroke: #008000; stroke-width: 1.5"/>
</g>
<g id="text_31">
<text class="ts" style="font-size: 10px; font-family: 'DejaVu Sans', 'Liberation Sans', sans-serif; text-anchor: start" x="99.805526" y="420.622186" transform="rotate(-0 99.805526 420.622186)">Maximum</text>
</g>
</g>
</g>
<g id="axes_3">
<g id="patch_14">
<path d="M 62.805526 970.031881 L 432.093518 970.031881 L 432.093518 705.047821 L 62.805526 705.047821 z" style="fill: #ffffff"/>
</g>
<g id="matplotlib.axis_5">
<g id="xtick_13">
<g id="line2d_55">
<g>
<path transform="translate(79.591344 970.031881)" d="M 0 0 L 0 3.5" style="stroke: #000000; stroke-width: 0.8"/>
</g>
</g>
<g id="text_32">
<text class="ts" style="font-size: 10px; font-family: 'DejaVu Sans', 'Liberation Sans', sans-serif; text-anchor: middle" x="79.591344" y="984.630318" transform="rotate(-0 79.591344 984.630318)">0</text>
</g>
</g>
<g id="xtick_14">
<g id="line2d_56">
<g>
<path transform="translate(147.41283 970.031881)" d="M 0 0 L 0 3.5" style="stroke: #000000; stroke-width: 0.8"/>
</g>
</g>
<g id="text_33">
<text class="ts" style="font-size: 10px; font-family: 'DejaVu Sans', 'Liberation Sans', sans-serif; text-anchor: middle" x="147.41283" y="984.630318" transform="rotate(-0 147.41283 984.630318)">200</text>
</g>
</g>
<g id="xtick_15">
<g id="line2d_57">
<g>
<path transform="translate(215.234316 970.031881)" d="M 0 0 L 0 3.5" style="stroke: #000000; stroke-width: 0.8"/>
</g>
</g>
<g id="text_34">
<text class="ts" style="font-size: 10px; font-family: 'DejaVu Sans', 'Liberation Sans', sans-serif; text-anchor: middle" x="215.234316" y="984.630318" transform="rotate(-0 215.234316 984.630318)">400</text>
</g>
</g>
<g id="xtick_16">
<g id="line2d_58">
<g>
<path transform="translate(283.055802 970.031881)" d="M 0 0 L 0 3.5" style="stroke: #000000; stroke-width: 0.8"/>
</g>
</g>
<g id="text_35">
<text class="ts" style="font-size: 10px; font-family: 'DejaVu Sans', 'Liberation Sans', sans-serif; text-anchor: middle" x="283.055802" y="984.630318" transform="rotate(-0 283.055802 984.630318)">600</text>
</g>
</g>
<g id="xtick_17">
<g id="line2d_59">
<g>
<path transform="translate(350.877288 970.031881)" d="M 0 0 L 0 3.5" style="stroke: #000000; stroke-width: 0.8"/>
</g>
</g>
<g id="text_36">
<text class="ts" style="font-size: 10px; font-family: 'DejaVu Sans', 'Liberation Sans', sans-serif; text-anchor: middle" x="350.877288" y="984.630318" transform="rotate(-0 350.877288 984.630318)">800</text>
</g>
</g>
<g id="xtick_18">
<g id="line2d_60">
<g>
<path transform="translate(418.698774 970.031881)" d="M 0 0 L 0 3.5" style="stroke: #000000; stroke-width: 0.8"/>
</g>
</g>
<g id="text_37">
<text class="ts" style="font-size: 10px; font-family: 'DejaVu Sans', 'Liberation Sans', sans-serif; text-anchor: middle" x="418.698774" y="984.630318" transform="rotate(-0 418.698774 984.630318)">1000</text>
</g>
</g>
<g id="text_38">
<text class="tl" style="font-size: 20px; font-family: 'DejaVu Sans', 'Liberation Sans', sans-serif; text-anchor: middle" x="247.449522" y="1005.906881" transform="rotate(-0 247.449522 1005.906881)">Time (Myrs)</text>
</g>
</g>
<g id="matplotlib.axis_6">
<g id="ytick_23">
<g id="line2d_61">
<g>
<path transform="translate(62.805526 881.934113)" d="M 0 0 L -3.5 0" style="stroke: #000000; stroke-width: 0.8"/>
</g>
</g>
<g id="text_39">
<g transform="translate(27.905526 886.636626)">
<text><tspan class="ts" x="0" y="-0.976562" style="font-size: 10px; font-family: 'DejaVu Sans', 'Liberation Sans', sans-serif">10</tspan><tspan class="ts" x="12.820312" y="-4.804688" style="font-size: 7px; font-family: 'DejaVu Sans', 'Liberation Sans', sans-serif">−13</tspan></text>
</g>
</g>
</g>
<g id="ytick_24">
<g id="line2d_62">
<g>
<path transform="translate(62.805526 764.66525)" d="M 0 0 L -3.5 0" style="stroke: #000000; stroke-width: 0.8"/>
</g>
</g>
<g id="text_40">
<g transform="translate(27.905526 769.367763)">
<text><tspan class="ts" x="0" y="-0.976562" style="font-size: 10px; font-family: 'DejaVu Sans', 'Liberation Sans', sans-serif">10</tspan><tspan class="ts" x="12.820312" y="-4.804688" style="font-size: 7px; font-family: 'DejaVu Sans', 'Liberation Sans', sans-serif">−12</tspan></text>
</g>
</g>
</g>
<g id="ytick_25">
<g id="line2d_63">
<g>
<path transform="translate(62.805526 963.90153)" d="M 0 0 L -2 0" style="stroke: #000000; stroke-width: 0.6"/>
</g>
</g>
</g>
<g id="ytick_26">
<g id="line2d_64">
<g>
<path transform="translate(62.805526 943.251509)" d="M 0 0 L -2 0" style="stroke: #000000; stroke-width: 0.6"/>
</g>
</g>
</g>
<g id="ytick_27">
<g id="line2d_65">
<g>
<path transform="translate(62.805526 928.600085)" d="M 0 0 L -2 0" style="stroke: #000000; stroke-width: 0.6"/>
</g>
</g>
</g>
<g id="ytick_28">
<g id="line2d_66">
<g>
<path transform="translate(62.805526 917.235558)" d="M 0 0 L -2 0" style="stroke: #000000; stroke-width: 0.6"/>
</g>
</g>
</g>
<g id="ytick_29">
<g id="line2d_67">
<g>
<path transform="translate(62.805526 907.950063)" d="M 0 0 L -2 0" style="stroke: #000000; stroke-width: 0.6"/>
</g>
</g>
</g>
<g id="ytick_30">
<g id="line2d_68">
<g>
<path transform="translate(62.805526 900.099289)" d="M 0 0 L -2 0" style="stroke: #000000; stroke-width: 0.6"/>
</g>
</g>
</g>
<g id="ytick_31">
<g id="line2d_69">
<g>
<path transform="translate(62.805526 893.29864)" d="M 0 0 L -2 0" style="stroke: #000000; stroke-width: 0.6"/>
</g>
</g>
</g>
<g id="ytick_32">
<g id="line2d_70">
<g>
<path transform="translate(62.805526 887.300042)" d="M 0 0 L -2 0" style="stroke: #000000; stroke-width: 0.6"/>
</g>
</g>
</g>
<g id="ytick_33">
<g id="line2d_71">
<g>
<path transform="translate(62.805526 846.632667)" d="M 0 0 L -2 0" style="stroke: #000000; stroke-width: 0.6"/>
</g>
</g>
</g>
<g id="ytick_34">
<g id="line2d_72">
<g>
<path transform="translate(62.805526 825.982646)" d="M 0 0 L -2 0" style="stroke: #000000; stroke-width: 0.6"/>
</g>
</g>
</g>
<g id="ytick_35">
<g id="line2d_73">
<g>
<path transform="translate(62.805526 811.331222)" d="M 0 0 L -2 0" style="stroke: #000000; stroke-width: 0.6"/>
</g>
</g>
</g>
<g id="ytick_36">
<g id="line2d_74">
<g>
<path transform="translate(62.805526 799.966695)" d="M 0 0 L -2 0" style="stroke: #000000; stroke-width: 0.6"/>
</g>
</g>
</g>
<g id="ytick_37">
<g id="line2d_75">
<g>
<path transform="translate(62.805526 790.6812)" d="M 0 0 L -2 0" style="stroke: #000000; stroke-width: 0.6"/>
</g>
</g>
</g>
<g id="ytick_38">
<g id="line2d_76">
<g>
<path transform="translate(62.805526 782.830426)" d="M 0 0 L -2 0" style="stroke: #000000; stroke-width: 0.6"/>
</g>
</g>
</g>
<g id="ytick_39">
<g id="line2d_77">
<g>
<path transform="translate(62.805526 776.029777)" d="M 0 0 L -2 0" style="stroke: #000000; stroke-width: 0.6"/>
</g>
</g>
</g>
<g id="ytick_40">
<g id="line2d_78">
<g>
<path transform="translate(62.805526 770.031179)" d="M 0 0 L -2 0" style="stroke: #000000; stroke-width: 0.6"/>
</g>
</g>
</g>
<g id="ytick_41">
<g id="line2d_79">
<g>
<path transform="translate(62.805526 729.363804)" d="M 0 0 L -2 0" style="stroke: #000000; stroke-width: 0.6"/>
</g>
</g>
</g>
<g id="ytick_42">
<g id="line2d_80">
<g>
<path transform="translate(62.805526 708.713783)" d="M 0 0 L -2 0" style="stroke: #000000; stroke-width: 0.6"/>
</g>
</g>
</g>
<g id="text_41">
<g transform="translate(19.280446 963.239851) rotate(-90)">
<text><tspan class="tl" x="0" y="-0.953125" style="font-size: 20px; font-family: 'DejaVu Sans', 'Liberation Sans', sans-serif">CR Pressure (dyne </tspan><tspan class="tl" x="190.878906" y="-0.953125" style="font-style: oblique; font-size: 20px; font-family: 'DejaVu Sans', 'Liberation Sans', sans-serif">cm</tspan><tspan class="tl" x="222.287839" y="-8.609375" style="font-size: 14px; font-family: 'DejaVu Sans', 'Liberation Sans', sans-serif">−2</tspan><tspan class="tl" x="243.472409" y="-0.953125" style="font-size: 20px; font-family: 'DejaVu Sans', 'Liberation Sans', sans-serif">)</tspan></text>
</g>
</g>
</g>
<g id="line2d_81">
<path d="M 181.323573 782.462141 L 188.105721 782.465462 L 191.496796 782.571732 L 194.88787 782.837407 L 198.278944 783.475027 L 201.670019 784.431456 L 205.061093 786.18491 L 208.452167 787.991498 L 211.843242 790.063762 L 215.234316 792.082891 L 218.62539 794.155154 L 222.016465 796.014878 L 225.407539 798.352816 L 228.798613 801.275239 L 232.189687 804.463337 L 235.580762 807.651435 L 238.971836 810.945802 L 242.36291 814.293305 L 245.753985 818.012752 L 249.145059 821.997875 L 252.536133 826.780021 L 255.927208 831.562168 L 259.318282 836.344315 L 262.709356 840.329437 L 266.10043 845.642933 L 269.491505 850.159405 L 272.882579 854.941552 L 276.273653 859.192349 L 279.664728 862.646121 L 283.055802 866.631243 L 286.446876 870.138151 L 289.837951 872.794899 L 293.229025 875.557917 L 296.620099 879.11796 L 300.011173 883.103082 L 303.402248 889.213603 L 306.793322 894.261424 L 310.184396 898.246546 L 313.575471 900.956429 L 316.966545 902.922423 L 320.357619 906.216791 L 323.748694 910.786397 L 327.139768 914.34644 L 330.530842 916.312434 L 333.921916 917.268863 L 337.312991 917.959617 L 340.704065 919.234857 L 344.095139 920.88204 L 347.486214 921.20085 L 350.877288 922.688629 L 354.268362 925.611052 L 357.659437 929.861849 L 361.050511 933.740701 L 364.441585 935.97237 L 367.83266 937.778959 L 371.223734 940.488842 L 374.614808 942.082891 L 378.005882 943.25186 L 381.396957 944.792774 L 384.788031 947.927736 L 388.179105 951.859724 L 391.57018 954.197662 L 394.961254 955.154091 L 398.352328 955.366631 L 401.743403 955.791711 L 405.134477 956.588735 L 408.525551 957.757705 L 411.916625 958.129649 L 415.3077 957.5983" clip-path="url(#p4241e3be48)" style="fill: none; stroke: #008000; stroke-width: 1.5; stroke-linecap: square"/>
</g>
<g id="line2d_82">
<path d="M 184.714647 782.512157 L 191.496796 782.518597 L 194.88787 782.784272 L 198.278944 783.368757 L 201.670019 784.165781 L 205.061093 785.494155 L 208.452167 787.035069 L 211.843242 788.522848 L 215.234316 790.223167 L 218.62539 791.976621 L 222.016465 793.517535 L 225.407539 795.696068 L 228.798613 797.821467 L 232.189687 799.946865 L 235.580762 802.231668 L 238.971836 804.994687 L 242.36291 807.917109 L 245.753985 811.902232 L 249.145059 816.418704 L 252.536133 821.466525 L 255.927208 827.045696 L 259.318282 833.687566 L 262.709356 840.595112 L 266.10043 848.565356 L 269.491505 855.472901 L 272.882579 860.255048 L 276.273653 864.24017 L 279.664728 866.631243 L 283.055802 868.384697 L 286.446876 870.085016 L 289.837951 871.41339 L 293.229025 872.369819 L 296.620099 873.113709 L 300.011173 875.026567 L 303.402248 878.05526 L 306.793322 881.668438 L 310.184396 884.325186 L 313.575471 885.12221 L 316.966545 885.812965 L 320.357619 886.450584 L 323.748694 887.247609 L 327.139768 889.054198 L 330.530842 891.817216 L 333.921916 894.952179 L 337.312991 897.555792 L 340.704065 897.715197 L 344.095139 897.130712 L 347.486214 897.183847 L 350.877288 897.980871 L 354.268362 899.043571 L 357.659437 898.246546 L 361.050511 897.290117 L 364.441585 897.077577 L 367.83266 897.927736 L 371.223734 898.937301 L 374.614808 899.57492 L 378.005882 899.256111 L 381.396957 898.937301 L 384.788031 898.724761 L 388.179105 899.309245 L 391.57018 899.78746 L 394.961254 899.78746 L 398.352328 899.734325 L 401.743403 899.89373 L 405.134477 900.850159 L 408.525551 902.391073 L 411.916625 903.878852 L 415.3077 904.410202" clip-path="url(#p4241e3be48)" style="fill: none; stroke: #000000; stroke-width: 1.5; stroke-linecap: square"/>
</g>
<g id="line2d_83">
<path d="M 79.591344 782.412327 L 208.452167 782.412327 L 222.016465 782.678002 L 232.189687 783.209352 L 242.36291 784.006376 L 252.536133 784.803401 L 262.709356 786.131775 L 272.882579 788.257173 L 283.055802 791.179596 L 293.229025 794.102019 L 303.402248 795.961743 L 310.184396 796.121148 L 313.575471 796.227418 L 316.966545 796.758767 L 320.357619 797.449522 L 323.748694 798.777896 L 327.139768 800.21254 L 330.530842 801.806589 L 333.921916 803.188098 L 337.312991 804.091392 L 340.704065 804.888417 L 344.095139 805.260361 L 347.486214 805.632306 L 350.877288 805.738576 L 354.268362 805.207226 L 357.659437 804.622742 L 361.050511 804.463337 L 364.441585 804.729012 L 367.83266 805.419766 L 371.223734 804.941552 L 374.614808 804.941552 L 378.005882 807.863974 L 381.396957 811.317747 L 384.788031 813.761955 L 388.179105 814.718385 L 391.57018 815.674814 L 394.961254 816.950053 L 398.352328 818.650372 L 401.743403 819.925611 L 405.134477 820.616366 L 408.525551 820.669501 L 411.916625 820.297556 L 415.3077 819.925611" clip-path="url(#p4241e3be48)" style="fill: none; stroke: #ff0000; stroke-width: 1.5; stroke-linecap: square"/>
</g>
<g id="line2d_84">
<path d="M 194.88787 764.059511 L 198.278944 764.080765 L 201.670019 764.187035 L 205.061093 764.505845 L 208.452167 765.302869 L 211.843242 765.834219 L 215.234316 766.418704 L 218.62539 767.693943 L 222.016465 769.553666 L 225.407539 771.785335 L 228.798613 774.282678 L 232.189687 776.567481 L 235.580762 780.286929 L 238.971836 784.006376 L 242.36291 787.725824 L 245.753985 791.445271 L 249.145059 795.164718 L 252.536133 798.884166 L 255.927208 803.400638 L 259.318282 807.651435 L 262.709356 809.458023 L 266.10043 811.052072 L 269.491505 812.592986 L 272.882579 814.1339 L 276.273653 815.037194 L 279.664728 814.77152 L 283.055802 814.45271 L 286.446876 814.293305 L 289.837951 814.187035 L 293.229025 814.02763 L 296.620099 821.466525 L 300.011173 826.248672 L 303.402248 832.093518 L 306.793322 840.063762 L 310.184396 848.777896 L 313.575471 859.511158 L 316.966545 861.849097 L 320.357619 864.45271 L 323.748694 863.443146 L 327.139768 862.805526 L 330.530842 861.477152 L 333.921916 859.511158 L 337.312991 856.269926 L 340.704065 857.917109 L 344.095139 863.443146 L 347.486214 861.795962 L 350.877288 863.761955 L 354.268362 872.901169 L 357.659437 884.165781 L 361.050511 887.619554 L 364.441585 888.416578 L 367.83266 893.198725 L 371.223734 897.980871 L 374.614808 902.497343 L 378.005882 899.043571 L 381.396957 898.246546 L 384.788031 900.371945 L 388.179105 910.414453 L 391.57018 914.293305 L 394.961254 915.781084 L 398.352328 914.45271 L 401.743403 914.66525 L 405.134477 914.24017 L 408.525551 914.080765 L 411.916625 912.699256 L 415.3077 911.105207" clip-path="url(#p4241e3be48)" style="fill: none; stroke-dasharray: 5.55,2.4; stroke-dashoffset: 4.042673; stroke: #008000; stroke-width: 1.5"/>
</g>
<g id="line2d_85">
<path d="M 198.278944 764.007705 L 208.452167 764.02763 L 211.843242 764.34644 L 215.234316 765.037194 L 218.62539 765.993624 L 222.016465 766.790648 L 225.407539 768.331562 L 228.798613 770.456961 L 232.189687 773.379384 L 235.580762 777.098831 L 238.971836 780.552604 L 242.36291 782.678002 L 245.753985 784.803401 L 249.145059 787.194474 L 252.536133 790.276302 L 255.927208 795.430393 L 259.318282 800.21254 L 262.709356 805.791711 L 266.10043 811.370882 L 269.491505 816.684378 L 272.882579 819.872476 L 276.273653 821.7322 L 279.664728 820.403826 L 283.055802 817.747078 L 286.446876 814.55898 L 289.837951 811.636557 L 293.229025 808.714134 L 296.620099 811.370882 L 300.011173 821.466525 L 303.402248 829.436769 L 306.793322 838.788523 L 310.184396 834.218916 L 313.575471 818.544102 L 316.966545 815.940489 L 320.357619 816.631243 L 323.748694 817.906482 L 327.139768 822.476089 L 330.530842 823.804463 L 333.921916 825.770457 L 337.312991 830.340064 L 340.704065 828.37407 L 344.095139 824.760893 L 347.486214 826.726886 L 350.877288 830.340064 L 354.268362 833.900106 L 357.659437 836.07864 L 361.050511 836.928799 L 364.441585 837.141339 L 367.83266 837.141339 L 371.223734 837.991498 L 374.614808 839.319872 L 378.005882 840.541977 L 381.396957 838.629118 L 384.788031 840.541977 L 388.179105 838.629118 L 391.57018 837.619554 L 394.961254 838.629118 L 398.352328 839.319872 L 401.743403 840.541977 L 405.134477 839.054198 L 408.525551 838.469713 L 411.916625 839.319872 L 415.3077 839.319872" clip-path="url(#p4241e3be48)" style="fill: none; stroke-dasharray: 5.55,2.4; stroke-dashoffset: 7.434841; stroke: #000000; stroke-width: 1.5"/>
</g>
<g id="line2d_86">
<path d="M 79.591344 763.655685 L 113.502087 763.868225 L 181.323573 763.974495 L 232.189687 763.70882 L 249.145059 763.549416 L 266.10043 764.1339 L 269.491505 764.1339 L 272.882579 763.761955 L 276.273653 763.496281 L 279.664728 763.496281 L 283.055802 763.92136 L 286.446876 764.66525 L 289.837951 765.302869 L 293.229025 766.206164 L 296.620099 762.114772 L 300.011173 757.545165 L 303.402248 754.357067 L 306.793322 752.072264 L 310.184396 747.502657 L 313.575471 740.648247 L 316.966545 739.266738 L 320.357619 743.35813 L 323.748694 751.594049 L 327.139768 753.400638 L 330.530842 750.21254 L 333.921916 749.78746 L 337.312991 751.647184 L 340.704065 747.980871 L 344.095139 742.773645 L 347.486214 728.69288 L 350.877288 722.422954 L 354.268362 719.287991 L 357.659437 716.896918 L 361.050511 719.287991 L 364.441585 725.026567 L 367.83266 727.630181 L 371.223734 718.756642 L 374.614808 723.963868 L 378.005882 740.701382 L 381.396957 753.241233 L 384.788031 758.448459 L 388.179105 762.592986 L 391.57018 761.583422 L 394.961254 760.733262 L 398.352328 760.520723 L 401.743403 762.592986 L 405.134477 765.249734 L 408.525551 767.321998 L 411.916625 765.727949 L 415.3077 761.052072" clip-path="url(#p4241e3be48)" style="fill: none; stroke-dasharray: 5.55,2.4; stroke-dashoffset: 0; stroke: #ff0000; stroke-width: 1.5"/>
</g>
<g id="patch_15">
<path d="M 62.805526 970.031881 L 62.805526 705.047821" style="fill: none; stroke: #000000; stroke-width: 0.8; stroke-linejoin: miter; stroke-linecap: square"/>
</g>
<g id="patch_16">
<path d="M 432.093518 970.031881 L 432.093518 705.047821" style="fill: none; stroke: #000000; stroke-width: 0.8; stroke-linejoin: miter; stroke-linecap: square"/>
</g>
<g id="patch_17">
<path d="M 62.805526 970.031881 L 432.093518 970.031881" style="fill: none; stroke: #000000; stroke-width: 0.8; stroke-linejoin: miter; stroke-linecap: square"/>
</g>
<g id="patch_18">
<path d="M 62.805526 705.047821 L 432.093518 705.047821" style="fill: none; stroke: #000000; stroke-width: 0.8; stroke-linejoin: miter; stroke-linecap: square"/>
</g>
<g id="text_42">
<text class="ts" style="font-size: 12px; font-family: 'DejaVu Sans', 'Liberation Sans', sans-serif; text-anchor: middle" x="247.449522" y="699.047821" transform="rotate(-0 247.449522 699.047821)">CR Pressure Statistics within 1 kpc of Midplane</text>
</g>
<g id="legend_3">
<g id="patch_19">
<path d="M 69.805526 965.031881 L 236.777401 965.031881 Q 238.777401 965.031881 238.777401 963.031881 L 238.777401 905.319381 Q 238.777401 903.319381 236.777401 903.319381 L 69.805526 903.319381 Q 67.805526 903.319381 67.805526 905.319381 L 67.805526 963.031881 Q 67.805526 965.031881 69.805526 965.031881 z" style="fill: #ffffff; opacity: 0.8; stroke: #cccccc; stroke-linejoin: miter"/>
</g>
<g id="line2d_87">
<path d="M 71.805526 911.417818 L 81.805526 911.417818 L 91.805526 911.417818" style="fill: none; stroke: #008000; stroke-width: 1.5; stroke-linecap: square"/>
</g>
<g id="text_43">
<text class="ts" style="font-size: 10px; font-family: 'DejaVu Sans', 'Liberation Sans', sans-serif; text-anchor: start" x="99.805526" y="914.917818" transform="rotate(-0 99.805526 914.917818)">Average (streaming)</text>
</g>
<g id="line2d_88">
<path d="M 71.805526 926.095943 L 81.805526 926.095943 L 91.805526 926.095943" style="fill: none; stroke: #000000; stroke-width: 1.5; stroke-linecap: square"/>
</g>
<g id="text_44">
<text class="ts" style="font-size: 10px; font-family: 'DejaVu Sans', 'Liberation Sans', sans-serif; text-anchor: start" x="99.805526" y="929.595943" transform="rotate(-0 99.805526 929.595943)">Average (diffusion = 3e28)</text>
</g>
<g id="line2d_89">
<path d="M 71.805526 940.774068 L 81.805526 940.774068 L 91.805526 940.774068" style="fill: none; stroke: #ff0000; stroke-width: 1.5; stroke-linecap: square"/>
</g>
<g id="text_45">
<text class="ts" style="font-size: 10px; font-family: 'DejaVu Sans', 'Liberation Sans', sans-serif; text-anchor: start" x="99.805526" y="944.274068" transform="rotate(-0 99.805526 944.274068)">Average (diffusion = 3e27)</text>
</g>
<g id="line2d_90">
<path d="M 71.805526 955.452193 L 81.805526 955.452193 L 91.805526 955.452193" style="fill: none; stroke-dasharray: 5.55,2.4; stroke-dashoffset: 0; stroke: #008000; stroke-width: 1.5"/>
</g>
<g id="text_46">
<text class="ts" style="font-size: 10px; font-family: 'DejaVu Sans', 'Liberation Sans', sans-serif; text-anchor: start" x="99.805526" y="958.952193" transform="rotate(-0 99.805526 958.952193)">Maximum</text>
</g>
</g>
</g>
<g id="axes_4">
<g id="patch_20">
<path d="M 62.752391 1315.090329 L 432.093518 1315.090329 L 432.093518 1057.970244 L 62.752391 1057.970244 z" style="fill: #ffffff"/>
</g>
<g id="matplotlib.axis_7">
<g id="xtick_19">
<g id="line2d_91">
<g>
<path transform="translate(79.540624 1315.090329)" d="M 0 0 L 0 3.5" style="stroke: #000000; stroke-width: 0.8"/>
</g>
</g>
<g id="text_47">
<text class="ts" style="font-size: 10px; font-family: 'DejaVu Sans', 'Liberation Sans', sans-serif; text-anchor: middle" x="79.540624" y="1329.688767" transform="rotate(-0 79.540624 1329.688767)">0</text>
</g>
</g>
<g id="xtick_20">
<g id="line2d_92">
<g>
<path transform="translate(147.371869 1315.090329)" d="M 0 0 L 0 3.5" style="stroke: #000000; stroke-width: 0.8"/>
</g>
</g>
<g id="text_48">
<text class="ts" style="font-size: 10px; font-family: 'DejaVu Sans', 'Liberation Sans', sans-serif; text-anchor: middle" x="147.371869" y="1329.688767" transform="rotate(-0 147.371869 1329.688767)">200</text>
</g>
</g>
<g id="xtick_21">
<g id="line2d_93">
<g>
<path transform="translate(215.203113 1315.090329)" d="M 0 0 L 0 3.5" style="stroke: #000000; stroke-width: 0.8"/>
</g>
</g>
<g id="text_49">
<text class="ts" style="font-size: 10px; font-family: 'DejaVu Sans', 'Liberation Sans', sans-serif; text-anchor: middle" x="215.203113" y="1329.688767" transform="rotate(-0 215.203113 1329.688767)">400</text>
</g>
</g>
<g id="xtick_22">
<g id="line2d_94">
<g>
<path transform="translate(283.034358 1315.090329)" d="M 0 0 L 0 3.5" style="stroke: #000000; stroke-width: 0.8"/>
</g>
</g>
<g id="text_50">
<text class="ts" style="font-size: 10px; font-family: 'DejaVu Sans', 'Liberation Sans', sans-serif; text-anchor: middle" x="283.034358" y="1329.688767" transform="rotate(-0 283.034358 1329.688767)">600</text>
</g>
</g>
<g id="xtick_23">
<g id="line2d_95">
<g>
<path transform="translate(350.865602 1315.090329)" d="M 0 0 L 0 3.5" style="stroke: #000000; stroke-width: 0.8"/>
</g>
</g>
<g id="text_51">
<text class="ts" style="font-size: 10px; font-family: 'DejaVu Sans', 'Liberation Sans', sans-serif; text-anchor: middle" x="350.865602" y="1329.688767" transform="rotate(-0 350.865602 1329.688767)">800</text>
</g>
</g>
<g id="xtick_24">
<g id="line2d_96">
<g>
<path transform="translate(418.696847 1315.090329)" d="M 0 0 L 0 3.5" style="stroke: #000000; stroke-width: 0.8"/>
</g>
</g>
<g id="text_52">
<text class="ts" style="font-size: 10px; font-family: 'DejaVu Sans', 'Liberation Sans', sans-serif; text-anchor: middle" x="418.696847" y="1329.688767" transform="rotate(-0 418.696847 1329.688767)">1000</text>
</g>
</g>
<g id="text_53">
<text class="tl" style="font-size: 20px; font-family: 'DejaVu Sans', 'Liberation Sans', sans-serif; text-anchor: middle" x="247.422954" y="1350.965329" transform="rotate(-0 247.422954 1350.965329)">Time (Myrs)</text>
</g>
</g>
<g id="matplotlib.axis_8">
<g id="ytick_43">
<g id="line2d_97">
<g>
<path transform="translate(62.752391 1250.903294)" d="M 0 0 L -3.5 0" style="stroke: #000000; stroke-width: 0.8"/>
</g>
</g>
<g id="text_54">
<g transform="translate(27.852391 1255.499538)">
<text><tspan class="ts" x="0" y="-0.976562" style="font-size: 10px; font-family: 'DejaVu Sans', 'Liberation Sans', sans-serif">10</tspan><tspan class="ts" x="12.820312" y="-4.804688" style="font-size: 7px; font-family: 'DejaVu Sans', 'Liberation Sans', sans-serif">−12</tspan></text>
</g>
</g>
</g>
<g id="ytick_44">
<g id="line2d_98">
<g>
<path transform="translate(62.752391 1310.917351)" d="M 0 0 L -2 0" style="stroke: #000000; stroke-width: 0.6"/>
</g>
</g>
</g>
<g id="ytick_45">
<g id="line2d_99">
<g>
<path transform="translate(62.752391 1295.131589)" d="M 0 0 L -2 0" style="stroke: #000000; stroke-width: 0.6"/>
</g>
</g>
</g>
<g id="ytick_46">
<g id="line2d_100">
<g>
<path transform="translate(62.752391 1281.784918)" d="M 0 0 L -2 0" style="stroke: #000000; stroke-width: 0.6"/>
</g>
</g>
</g>
<g id="ytick_47">
<g id="line2d_101">
<g>
<path transform="translate(62.752391 1270.223505)" d="M 0 0 L -2 0" style="stroke: #000000; stroke-width: 0.6"/>
</g>
</g>
</g>
<g id="ytick_48">
<g id="line2d_102">
<g>
<path transform="translate(62.752391 1260.025617)" d="M 0 0 L -2 0" style="stroke: #000000; stroke-width: 0.6"/>
</g>
</g>
</g>
<g id="ytick_49">
<g id="line2d_103">
<g>
<path transform="translate(62.752391 1190.889238)" d="M 0 0 L -2 0" style="stroke: #000000; stroke-width: 0.6"/>
</g>
</g>
</g>
<g id="ytick_50">
<g id="line2d_104">
<g>
<path transform="translate(62.752391 1155.783265)" d="M 0 0 L -2 0" style="stroke: #000000; stroke-width: 0.6"/>
</g>
</g>
</g>
<g id="ytick_51">
<g id="line2d_105">
<g>
<path transform="translate(62.752391 1130.875181)" d="M 0 0 L -2 0" style="stroke: #000000; stroke-width: 0.6"/>
</g>
</g>
</g>
<g id="ytick_52">
<g id="line2d_106">
<g>
<path transform="translate(62.752391 1111.55497)" d="M 0 0 L -2 0" style="stroke: #000000; stroke-width: 0.6"/>
</g>
</g>
</g>
<g id="ytick_53">
<g id="line2d_107">
<g>
<path transform="translate(62.752391 1095.769209)" d="M 0 0 L -2 0" style="stroke: #000000; stroke-width: 0.6"/>
</g>
</g>
</g>
<g id="ytick_54">
<g id="line2d_108">
<g>
<path transform="translate(62.752391 1082.422537)" d="M 0 0 L -2 0" style="stroke: #000000; stroke-width: 0.6"/>
</g>
</g>
</g>
<g id="ytick_55">
<g id="line2d_109">
<g>
<path transform="translate(62.752391 1070.861125)" d="M 0 0 L -2 0" style="stroke: #000000; stroke-width: 0.6"/>
</g>
</g>
</g>
<g id="ytick_56">
<g id="line2d_110">
<g>
<path transform="translate(62.752391 1060.663236)" d="M 0 0 L -2 0" style="stroke: #000000; stroke-width: 0.6"/>
</g>
</g>
</g>
<g id="text_55">
<g transform="translate(19.227311 1344.030287) rotate(-90)">
<text><tspan class="tl" x="0" y="-0.953125" style="font-size: 20px; font-family: 'DejaVu Sans', 'Liberation Sans', sans-serif">Magnetic Pressure (dyne </tspan><tspan class="tl" x="254.599609" y="-0.953125" style="font-style: oblique; font-size: 20px; font-family: 'DejaVu Sans', 'Liberation Sans', sans-serif">cm</tspan><tspan class="tl" x="286.008542" y="-8.609375" style="font-size: 14px; font-family: 'DejaVu Sans', 'Liberation Sans', sans-serif">−2</tspan><tspan class="tl" x="307.193112" y="-0.953125" style="font-size: 20px; font-family: 'DejaVu Sans', 'Liberation Sans', sans-serif">)</tspan></text>
</g>
</g>
</g>
<g id="line2d_111">
<path d="M 205.028426 1196.012153 L 211.811551 1196.014878 L 215.203113 1196.121148 L 218.594675 1197.343252 L 221.986238 1199.149841 L 225.3778 1200.584485 L 228.769362 1202.125399 L 232.160924 1203.613177 L 235.552487 1204.941552 L 238.944049 1206.588735 L 242.335611 1208.554729 L 245.727173 1209.829968 L 249.118735 1210.201913 L 252.510298 1209.511158 L 255.90186 1208.395324 L 259.293422 1209.192349 L 262.684984 1211.795962 L 266.076547 1214.77152 L 269.468109 1218.969182 L 272.859671 1222.582359 L 276.251233 1224.229543 L 279.642795 1225.185972 L 283.034358 1226.408077 L 286.42592 1227.789586 L 289.817482 1228.58661 L 293.209044 1229.755579 L 296.600607 1231.402763 L 299.992169 1234.325186 L 303.383731 1239.532412 L 306.775293 1244.792774 L 310.166855 1247.077577 L 313.558418 1246.705632 L 316.94998 1245.749203 L 320.341542 1246.068013 L 323.733104 1247.502657 L 327.124667 1247.715197 L 330.516229 1246.811902 L 333.907791 1246.971307 L 337.299353 1249.149841 L 340.690916 1252.709883 L 344.082478 1256.96068 L 347.47404 1261.211477 L 350.865602 1266.790648 L 354.257164 1273.273114 L 357.648727 1278.533475 L 361.040289 1281.455898 L 364.431851 1282.571732 L 367.823413 1284.537726 L 371.214976 1286.131775 L 374.606538 1284.962806 L 377.9981 1285.600425 L 381.389662 1287.725824 L 384.781224 1289.691817 L 388.172787 1294.952179 L 391.564349 1299.149841 L 394.955911 1300.159405 L 398.347473 1300.159405 L 401.739036 1299.628055 L 405.130598 1299.628055 L 408.52216 1299.628055 L 411.913722 1301.806589 L 415.305285 1303.400638" clip-path="url(#p86ab5bc25a)" style="fill: none; stroke: #008000; stroke-width: 1.5; stroke-linecap: square"/>
</g>
<g id="line2d_112">
<path d="M 205.028426 1196.012153 L 211.811551 1196.014878 L 215.203113 1196.121148 L 218.594675 1197.236982 L 221.986238 1198.884166 L 225.3778 1200.31881 L 228.769362 1201.806589 L 232.160924 1203.134963 L 235.552487 1204.038257 L 238.944049 1204.941552 L 242.335611 1206.588735 L 245.727173 1207.545165 L 249.118735 1207.226355 L 252.510298 1205.632306 L 255.90186 1203.985122 L 259.293422 1202.337938 L 262.684984 1200.690755 L 266.076547 1199.734325 L 269.468109 1203.666312 L 272.859671 1211.158342 L 276.251233 1218.969182 L 279.642795 1224.867163 L 283.034358 1227.94899 L 286.42592 1227.311371 L 289.817482 1224.548353 L 293.209044 1222.688629 L 296.600607 1223.113709 L 299.992169 1224.548353 L 303.383731 1226.833156 L 306.775293 1232.359192 L 310.166855 1237.938363 L 313.558418 1240.860786 L 316.94998 1240.860786 L 320.341542 1241.498406 L 323.733104 1242.50797 L 327.124667 1241.817216 L 330.516229 1243.35813 L 333.907791 1246.811902 L 337.299353 1248.352816 L 340.690916 1248.352816 L 344.082478 1246.227418 L 347.47404 1244.420829 L 350.865602 1248.512221 L 354.257164 1254.038257 L 357.648727 1257.970244 L 361.040289 1257.81084 L 364.431851 1255.791711 L 367.823413 1254.250797 L 371.214976 1254.888417 L 374.606538 1256.269926 L 377.9981 1256.801275 L 381.389662 1254.729012 L 384.781224 1253.453773 L 388.172787 1255.100956 L 391.564349 1257.70457 L 394.955911 1259.670563 L 398.347473 1258.714134 L 401.739036 1257.70457 L 405.130598 1257.06695 L 408.52216 1256.110521 L 411.913722 1255.738576 L 415.305285 1255.100956" clip-path="url(#p86ab5bc25a)" style="fill: none; stroke: #000000; stroke-width: 1.5; stroke-linecap: square"/>
</g>
<g id="line2d_113">
<path d="M 79.540624 1195.961743 L 228.769362 1196.333688 L 232.160924 1196.439957 L 235.552487 1196.493092 L 238.944049 1196.599362 L 242.335611 1196.652497 L 245.727173 1196.918172 L 249.118735 1197.343252 L 252.510298 1197.980871 L 255.90186 1198.884166 L 259.293422 1199.946865 L 262.684984 1200.850159 L 266.076547 1201.700319 L 269.468109 1202.656748 L 272.859671 1203.453773 L 276.251233 1204.303932 L 279.642795 1204.941552 L 283.034358 1205.260361 L 286.42592 1205.366631 L 289.817482 1205.047821 L 293.209044 1204.622742 L 296.600607 1204.303932 L 299.992169 1204.197662 L 303.383731 1204.303932 L 306.775293 1204.622742 L 310.166855 1204.888417 L 313.558418 1205.047821 L 316.94998 1206.163656 L 320.341542 1207.863974 L 323.733104 1209.564293 L 327.124667 1210.839532 L 330.516229 1212.539851 L 333.907791 1214.87779 L 337.299353 1216.099894 L 340.690916 1215.462274 L 344.082478 1214.187035 L 347.47404 1213.336876 L 350.865602 1213.761955 L 354.257164 1215.090329 L 357.648727 1216.365569 L 361.040289 1218.490967 L 364.431851 1222.316684 L 367.823413 1226.354942 L 371.214976 1229.064825 L 374.606538 1231.190223 L 377.9981 1232.890542 L 381.389662 1234.165781 L 384.781224 1234.590861 L 388.172787 1233.475027 L 391.564349 1231.880978 L 394.955911 1230.340064 L 398.347473 1228.852285 L 401.739036 1227.577046 L 405.130598 1226.939426 L 408.52216 1226.939426 L 411.913722 1227.364506 L 415.305285 1228.05526" clip-path="url(#p86ab5bc25a)" style="fill: none; stroke: #ff0000; stroke-width: 1.5; stroke-linecap: square"/>
</g>
<g id="line2d_114">
<path d="M 171.112804 1162.835889 L 177.895929 1162.752391 L 181.287491 1162.327311 L 184.679053 1161.849097 L 188.070615 1161.530287 L 191.462178 1160.892667 L 194.85374 1159.936238 L 198.245302 1158.607864 L 201.636864 1156.216791 L 205.028426 1153.294368 L 208.419989 1150.903294 L 211.811551 1147.183847 L 215.203113 1142.667375 L 218.594675 1140.276302 L 221.986238 1137.885228 L 225.3778 1136.025505 L 228.769362 1134.962806 L 232.160924 1133.103082 L 235.552487 1128.320935 L 238.944049 1121.679065 L 242.335611 1115.568544 L 245.727173 1110.786397 L 249.118735 1100.850159 L 252.510298 1086.450584 L 255.90186 1091.392136 L 259.293422 1090.063762 L 262.684984 1088.416578 L 266.076547 1088.735388 L 269.468109 1082.890542 L 272.859671 1086.131775 L 276.251233 1084.856536 L 279.642795 1082.571732 L 283.034358 1080.924548 L 286.42592 1080.605739 L 289.817482 1078.639745 L 293.209044 1088.097768 L 296.600607 1106.376196 L 299.992169 1100.53135 L 303.383731 1107.06695 L 306.775293 1103.772582 L 310.166855 1099.202976 L 313.558418 1092.72051 L 316.94998 1080.180659 L 320.341542 1084.962806 L 323.733104 1092.18916 L 327.124667 1100.63762 L 330.516229 1110.520723 L 333.907791 1120.616366 L 337.299353 1128.69288 L 340.690916 1137.832094 L 344.082478 1147.662062 L 347.47404 1139.160468 L 350.865602 1121.51966 L 354.257164 1111.424017 L 357.648727 1112.061637 L 361.040289 1111.105207 L 364.431851 1123.804463 L 367.823413 1124.867163 L 371.214976 1123.273114 L 374.606538 1127.895855 L 377.9981 1135.75983 L 381.389662 1139.001063 L 384.781224 1138.150903 L 388.172787 1146.652497 L 391.564349 1159.989373 L 394.955911 1171.62593 L 398.347473 1167.375133 L 401.739036 1157.27949 L 405.130598 1166.843783 L 408.52216 1177.205101 L 411.913722 1185.706695 L 415.305285 1174.814028" clip-path="url(#p86ab5bc25a)" style="fill: none; stroke-dasharray: 5.55,2.4; stroke-dashoffset: 4.15417; stroke: #008000; stroke-width: 1.5"/>
</g>
<g id="line2d_115">
<path d="M 171.112804 1162.835889 L 177.895929 1162.752391 L 181.287491 1162.327311 L 184.679053 1162.167906 L 188.070615 1161.955367 L 191.462178 1161.636557 L 194.85374 1161.158342 L 198.245302 1160.255048 L 201.636864 1158.607864 L 205.028426 1156.588735 L 208.419989 1154.622742 L 211.811551 1151.806589 L 215.203113 1146.918172 L 218.594675 1141.604676 L 221.986238 1137.513284 L 225.3778 1134.431456 L 228.769362 1130.712009 L 232.160924 1125.398512 L 235.552487 1103.081828 L 238.944049 1091.392136 L 242.335611 1091.657811 L 245.727173 1094.952179 L 249.118735 1096.280553 L 252.510298 1096.599362 L 255.90186 1094.314559 L 259.293422 1087.141339 L 262.684984 1082.252922 L 266.076547 1083.528162 L 269.468109 1074.707758 L 272.859671 1080.924548 L 276.251233 1081.934113 L 279.642795 1078.320935 L 283.034358 1074.707758 L 286.42592 1075.717322 L 289.817482 1070.510096 L 293.209044 1069.819341 L 296.600607 1075.079702 L 299.992169 1078.639745 L 303.383731 1081.562168 L 306.775293 1105.207226 L 310.166855 1115.834219 L 313.558418 1122.210414 L 316.94998 1125.398512 L 320.341542 1119.819341 L 323.733104 1107.863974 L 327.124667 1102.603613 L 330.516229 1095.430393 L 333.907791 1091.817216 L 337.299353 1117.428268 L 340.690916 1127.417641 L 344.082478 1125.451647 L 347.47404 1127.098831 L 350.865602 1127.736451 L 354.257164 1128.37407 L 357.648727 1126.726886 L 361.040289 1124.814028 L 364.431851 1126.089267 L 367.823413 1129.277365 L 371.214976 1132.837407 L 374.606538 1135.387885 L 377.9981 1134.378321 L 381.389662 1129.808714 L 384.781224 1125.929862 L 388.172787 1121.997875 L 391.564349 1117.109458 L 394.955911 1119.713071 L 398.347473 1112.858661 L 401.739036 1117.109458 L 405.130598 1114.824655 L 408.52216 1111.530287 L 411.913722 1108.607864 L 415.305285 1105.685441" clip-path="url(#p86ab5bc25a)" style="fill: none; stroke-dasharray: 5.55,2.4; stroke-dashoffset: 4.15417; stroke: #000000; stroke-width: 1.5"/>
</g>
<g id="line2d_116">
<path d="M 79.540624 1164.1339 L 130.414057 1163.336876 L 205.028426 1163.124336 L 208.419989 1162.911796 L 211.811551 1162.646121 L 215.203113 1162.380446 L 218.594675 1162.061637 L 221.986238 1161.636557 L 225.3778 1161.105207 L 228.769362 1160.095643 L 232.160924 1159.139214 L 235.552487 1158.023379 L 238.944049 1156.588735 L 242.335611 1154.675877 L 245.727173 1152.497343 L 249.118735 1149.89373 L 252.510298 1147.715197 L 255.90186 1145.802338 L 259.293422 1144.367694 L 262.684984 1143.25186 L 266.076547 1141.817216 L 269.468109 1139.904357 L 272.859671 1134.378321 L 276.251233 1131.402763 L 279.642795 1130.499469 L 283.034358 1129.171095 L 286.42592 1127.151966 L 289.817482 1124.973433 L 293.209044 1122.954304 L 296.600607 1121.94474 L 299.992169 1120.722635 L 303.383731 1118.490967 L 306.775293 1117.428268 L 310.166855 1118.862912 L 313.558418 1120.297556 L 316.94998 1117.428268 L 320.341542 1115.037194 L 323.733104 1109.139214 L 327.124667 1104.250797 L 330.516229 1100.31881 L 333.907791 1095.749203 L 337.299353 1093.14559 L 340.690916 1090.541977 L 344.082478 1087.938363 L 347.47404 1087.247609 L 350.865602 1088.894793 L 354.257164 1091.179596 L 357.648727 1100 L 361.040289 1115.037194 L 364.431851 1148.777896 L 367.823413 1141.073326 L 371.214976 1132.465462 L 374.606538 1127.205101 L 377.9981 1120.669501 L 381.389662 1117.109458 L 384.781224 1116.790648 L 388.172787 1117.747078 L 391.564349 1118.756642 L 394.955911 1121.360255 L 398.347473 1122.954304 L 401.739036 1121.360255 L 405.130598 1121.041445 L 408.52216 1121.679065 L 411.913722 1122.635494 L 415.305285 1119.713071" clip-path="url(#p86ab5bc25a)" style="fill: none; stroke-dasharray: 5.55,2.4; stroke-dashoffset: 0; stroke: #ff0000; stroke-width: 1.5"/>
</g>
<g id="patch_21">
<path d="M 62.752391 1315.090329 L 62.752391 1057.970244" style="fill: none; stroke: #000000; stroke-width: 0.8; stroke-linejoin: miter; stroke-linecap: square"/>
</g>
<g id="patch_22">
<path d="M 432.093518 1315.090329 L 432.093518 1057.970244" style="fill: none; stroke: #000000; stroke-width: 0.8; stroke-linejoin: miter; stroke-linecap: square"/>
</g>
<g id="patch_23">
<path d="M 62.752391 1315.090329 L 432.093518 1315.090329" style="fill: none; stroke: #000000; stroke-width: 0.8; stroke-linejoin: miter; stroke-linecap: square"/>
</g>
<g id="patch_24">
<path d="M 62.752391 1057.970244 L 432.093518 1057.970244" style="fill: none; stroke: #000000; stroke-width: 0.8; stroke-linejoin: miter; stroke-linecap: square"/>
</g>
<g id="text_56">
<text class="ts" style="font-size: 12px; font-family: 'DejaVu Sans', 'Liberation Sans', sans-serif; text-anchor: middle" x="247.422954" y="1051.970244" transform="rotate(-0 247.422954 1051.970244)">Magnetic Pressure Statistics within 1 kpc of Midplane</text>
</g>
<g id="legend_4">
<g id="patch_25">
<path d="M 69.752391 1124.682744 L 205.439891 1124.682744 Q 207.439891 1124.682744 207.439891 1122.682744 L 207.439891 1064.970244 Q 207.439891 1062.970244 205.439891 1062.970244 L 69.752391 1062.970244 Q 67.752391 1062.970244 67.752391 1064.970244 L 67.752391 1122.682744 Q 67.752391 1124.682744 69.752391 1124.682744 z" style="fill: #ffffff; opacity: 0.8; stroke: #cccccc; stroke-linejoin: miter"/>
</g>
<g id="line2d_117">
<path d="M 71.752391 1071.068682 L 81.752391 1071.068682 L 91.752391 1071.068682" style="fill: none; stroke: #008000; stroke-width: 1.5; stroke-linecap: square"/>
</g>
<g id="text_57">
<text class="ts" style="font-size: 10px; font-family: 'DejaVu Sans', 'Liberation Sans', sans-serif; text-anchor: start" x="99.752391" y="1074.568682" transform="rotate(-0 99.752391 1074.568682)">Average (Streaming)</text>
</g>
<g id="line2d_118">
<path d="M 71.752391 1085.746807 L 81.752391 1085.746807 L 91.752391 1085.746807" style="fill: none; stroke: #000000; stroke-width: 1.5; stroke-linecap: square"/>
</g>
<g id="text_58">
<text class="ts" style="font-size: 10px; font-family: 'DejaVu Sans', 'Liberation Sans', sans-serif; text-anchor: start" x="99.752391" y="1089.246807" transform="rotate(-0 99.752391 1089.246807)">Diffusion = 3e28</text>
</g>
<g id="line2d_119">
<path d="M 71.752391 1100.424932 L 81.752391 1100.424932 L 91.752391 1100.424932" style="fill: none; stroke: #ff0000; stroke-width: 1.5; stroke-linecap: square"/>
</g>
<g id="text_59">
<text class="ts" style="font-size: 10px; font-family: 'DejaVu Sans', 'Liberation Sans', sans-serif; text-anchor: start" x="99.752391" y="1103.924932" transform="rotate(-0 99.752391 1103.924932)">Diffusion = 3e27</text>
</g>
<g id="line2d_120">
<path d="M 71.752391 1115.103057 L 81.752391 1115.103057 L 91.752391 1115.103057" style="fill: none; stroke-dasharray: 5.55,2.4; stroke-dashoffset: 0; stroke: #008000; stroke-width: 1.5"/>
</g>
<g id="text_60">
<text class="ts" style="font-size: 10px; font-family: 'DejaVu Sans', 'Liberation Sans', sans-serif; text-anchor: start" x="99.752391" y="1118.603057" transform="rotate(-0 99.752391 1118.603057)">Maximum</text>
</g>
</g>
</g>
</g>
<defs>
<clipPath id="p4381c79f08">
<rect x="79.861849" y="14.87779" width="352.178533" height="265.143464"/>
</clipPath>
<clipPath id="pf662947c96">
<rect x="62.805526" y="359.989373" width="369.287991" height="265.037194"/>
</clipPath>
<clipPath id="p4241e3be48">
<rect x="62.805526" y="705.047821" width="369.287991" height="264.98406"/>
</clipPath>
<clipPath id="p86ab5bc25a">
<rect x="62.752391" y="1057.970244" width="369.341126" height="257.120085"/>
</clipPath>
</defs>
</svg>

</body></html>
